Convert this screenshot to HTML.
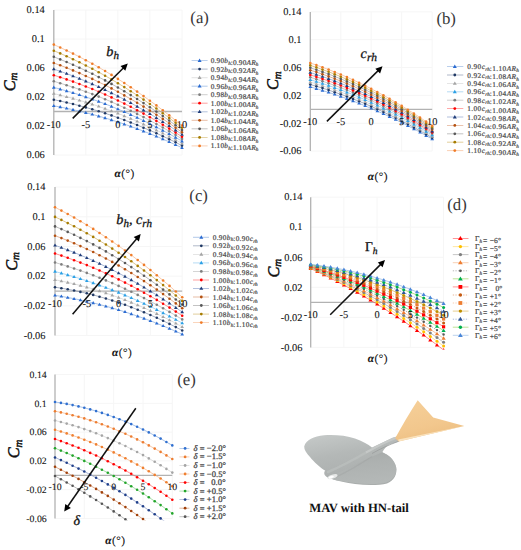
<!DOCTYPE html><html><head><meta charset="utf-8"><style>html,body{margin:0;padding:0;background:#fff;width:521px;height:550px;overflow:hidden}svg{display:block;text-rendering:geometricPrecision}.t{font-family:"Liberation Serif",serif;fill:#111}.s{font-family:"Liberation Sans",sans-serif;fill:#222}</style></head><body>
<svg width="521" height="550" viewBox="0 0 521 550">
<defs>
<clipPath id="clipa"><rect x="49.8" y="10" width="136.2" height="147"/></clipPath>
<clipPath id="clipb"><rect x="306.3" y="11.9" width="129.9" height="141.2"/></clipPath>
<clipPath id="clipc"><rect x="51" y="187.1" width="135.2" height="150.5"/></clipPath>
<clipPath id="clipd"><rect x="306.7" y="197.2" width="140.9" height="152.2"/></clipPath>
<clipPath id="clipe"><rect x="51" y="374.6" width="125.3" height="145.9"/></clipPath>
</defs>
<path d="M53.8 10H182M53.8 39H182M53.8 68H182M53.8 97H182M53.8 126H182M53.8 155H182M85.8 10V155M117.9 10V155M149.9 10V155M182 10V155" stroke="#f6f6f6" stroke-width="1" fill="none"/>
<path d="M53.8 10V155" stroke="#b2b2b2" stroke-width="1.3" fill="none"/>
<path d="M53.8 111.5H182" stroke="#b2b2b2" stroke-width="1.3" fill="none"/>
<g clip-path="url(#clipa)">
<path d="M53.8 105.8L60.2 107L66.6 108.3L73 109.7L79.4 111.1L85.8 112.7L92.3 114.4L98.7 116.1L105.1 118L111.5 119.9L117.9 122L124.3 124.1L130.7 126.4L137.1 128.7L143.5 131.2L149.9 133.7L156.4 136.3L162.8 139.1L169.2 141.9L175.6 144.8L182 147.8" stroke="#7fa6dc" stroke-width="0.85" fill="none" opacity="0.8"/>
<path d="M53.8 103.9L55.6 107L51.9 107Z" fill="#2a6bd2"/>
<path d="M60.2 105.1L62.1 108.2L58.4 108.2Z" fill="#2a6bd2"/>
<path d="M66.6 106.4L68.5 109.5L64.8 109.5Z" fill="#2a6bd2"/>
<path d="M73 107.8L74.9 110.9L71.2 110.9Z" fill="#2a6bd2"/>
<path d="M79.4 109.3L81.3 112.4L77.6 112.4Z" fill="#2a6bd2"/>
<path d="M85.8 110.8L87.7 113.9L84 113.9Z" fill="#2a6bd2"/>
<path d="M92.3 112.5L94.1 115.6L90.4 115.6Z" fill="#2a6bd2"/>
<path d="M98.7 114.3L100.5 117.4L96.8 117.4Z" fill="#2a6bd2"/>
<path d="M105.1 116.1L106.9 119.2L103.2 119.2Z" fill="#2a6bd2"/>
<path d="M111.5 118.1L113.3 121.2L109.6 121.2Z" fill="#2a6bd2"/>
<path d="M117.9 120.1L119.7 123.2L116 123.2Z" fill="#2a6bd2"/>
<path d="M124.3 122.3L126.2 125.4L122.5 125.4Z" fill="#2a6bd2"/>
<path d="M130.7 124.5L132.6 127.6L128.9 127.6Z" fill="#2a6bd2"/>
<path d="M137.1 126.9L139 130L135.3 130Z" fill="#2a6bd2"/>
<path d="M143.5 129.3L145.4 132.4L141.7 132.4Z" fill="#2a6bd2"/>
<path d="M149.9 131.8L151.8 134.9L148.1 134.9Z" fill="#2a6bd2"/>
<path d="M156.4 134.5L158.2 137.6L154.5 137.6Z" fill="#2a6bd2"/>
<path d="M162.8 137.2L164.6 140.3L160.9 140.3Z" fill="#2a6bd2"/>
<path d="M169.2 140L171 143.1L167.3 143.1Z" fill="#2a6bd2"/>
<path d="M175.6 142.9L177.4 146L173.7 146Z" fill="#2a6bd2"/>
<path d="M182 145.9L183.8 149L180.2 149Z" fill="#2a6bd2"/>
<path d="M53.8 99.7L60.2 101L66.6 102.5L73 104L79.4 105.7L85.8 107.4L92.3 109.3L98.7 111.2L105.1 113.3L111.5 115.4L117.9 117.7L124.3 120L130.7 122.5L137.1 125L143.5 127.7L149.9 130.4L156.4 133.2L162.8 136.2L169.2 139.2L175.6 142.3L182 145.6" stroke="#7c8aa5" stroke-width="0.85" fill="none" opacity="0.8"/>
<circle cx="53.8" cy="99.7" r="1.3" fill="#1f3864"/>
<circle cx="60.2" cy="101" r="1.3" fill="#1f3864"/>
<circle cx="66.6" cy="102.5" r="1.3" fill="#1f3864"/>
<circle cx="73" cy="104" r="1.3" fill="#1f3864"/>
<circle cx="79.4" cy="105.7" r="1.3" fill="#1f3864"/>
<circle cx="85.8" cy="107.4" r="1.3" fill="#1f3864"/>
<circle cx="92.3" cy="109.3" r="1.3" fill="#1f3864"/>
<circle cx="98.7" cy="111.2" r="1.3" fill="#1f3864"/>
<circle cx="105.1" cy="113.3" r="1.3" fill="#1f3864"/>
<circle cx="111.5" cy="115.4" r="1.3" fill="#1f3864"/>
<circle cx="117.9" cy="117.7" r="1.3" fill="#1f3864"/>
<circle cx="124.3" cy="120" r="1.3" fill="#1f3864"/>
<circle cx="130.7" cy="122.5" r="1.3" fill="#1f3864"/>
<circle cx="137.1" cy="125" r="1.3" fill="#1f3864"/>
<circle cx="143.5" cy="127.7" r="1.3" fill="#1f3864"/>
<circle cx="149.9" cy="130.4" r="1.3" fill="#1f3864"/>
<circle cx="156.4" cy="133.2" r="1.3" fill="#1f3864"/>
<circle cx="162.8" cy="136.2" r="1.3" fill="#1f3864"/>
<circle cx="169.2" cy="139.2" r="1.3" fill="#1f3864"/>
<circle cx="175.6" cy="142.3" r="1.3" fill="#1f3864"/>
<circle cx="182" cy="145.6" r="1.3" fill="#1f3864"/>
<path d="M53.8 93.6L60.2 95.1L66.6 96.7L73 98.4L79.4 100.3L85.8 102.2L92.3 104.2L98.7 106.4L105.1 108.6L111.5 110.9L117.9 113.4L124.3 115.9L130.7 118.6L137.1 121.3L143.5 124.2L149.9 127.1L156.4 130.1L162.8 133.3L169.2 136.6L175.6 139.9L182 143.4" stroke="#cfcfcf" stroke-width="0.85" fill="none" opacity="0.8"/>
<path d="M53.8 91.7L55.6 94.8L51.9 94.8Z" fill="#a5a5a5"/>
<path d="M60.2 93.2L62.1 96.3L58.4 96.3Z" fill="#a5a5a5"/>
<path d="M66.6 94.9L68.5 98L64.8 98Z" fill="#a5a5a5"/>
<path d="M73 96.6L74.9 99.7L71.2 99.7Z" fill="#a5a5a5"/>
<path d="M79.4 98.4L81.3 101.5L77.6 101.5Z" fill="#a5a5a5"/>
<path d="M85.8 100.3L87.7 103.4L84 103.4Z" fill="#a5a5a5"/>
<path d="M92.3 102.4L94.1 105.5L90.4 105.5Z" fill="#a5a5a5"/>
<path d="M98.7 104.5L100.5 107.6L96.8 107.6Z" fill="#a5a5a5"/>
<path d="M105.1 106.7L106.9 109.8L103.2 109.8Z" fill="#a5a5a5"/>
<path d="M111.5 109.1L113.3 112.2L109.6 112.2Z" fill="#a5a5a5"/>
<path d="M117.9 111.5L119.7 114.6L116 114.6Z" fill="#a5a5a5"/>
<path d="M124.3 114.1L126.2 117.2L122.5 117.2Z" fill="#a5a5a5"/>
<path d="M130.7 116.7L132.6 119.8L128.9 119.8Z" fill="#a5a5a5"/>
<path d="M137.1 119.4L139 122.5L135.3 122.5Z" fill="#a5a5a5"/>
<path d="M143.5 122.3L145.4 125.4L141.7 125.4Z" fill="#a5a5a5"/>
<path d="M149.9 125.2L151.8 128.3L148.1 128.3Z" fill="#a5a5a5"/>
<path d="M156.4 128.3L158.2 131.4L154.5 131.4Z" fill="#a5a5a5"/>
<path d="M162.8 131.4L164.6 134.5L160.9 134.5Z" fill="#a5a5a5"/>
<path d="M169.2 134.7L171 137.8L167.3 137.8Z" fill="#a5a5a5"/>
<path d="M175.6 138L177.4 141.1L173.7 141.1Z" fill="#a5a5a5"/>
<path d="M182 141.5L183.8 144.6L180.2 144.6Z" fill="#a5a5a5"/>
<path d="M53.8 87.4L60.2 89.1L66.6 90.9L73 92.8L79.4 94.8L85.8 97L92.3 99.2L98.7 101.5L105.1 103.9L111.5 106.4L117.9 109.1L124.3 111.8L130.7 114.6L137.1 117.6L143.5 120.6L149.9 123.8L156.4 127.1L162.8 130.4L169.2 133.9L175.6 137.5L182 141.1" stroke="#7fa6dc" stroke-width="0.85" fill="none" opacity="0.8"/>
<path d="M53.8 85.6L55.6 88.7L51.9 88.7Z" fill="#2a6bd2"/>
<path d="M60.2 87.3L62.1 90.4L58.4 90.4Z" fill="#2a6bd2"/>
<path d="M66.6 89.1L68.5 92.2L64.8 92.2Z" fill="#2a6bd2"/>
<path d="M73 91L74.9 94.1L71.2 94.1Z" fill="#2a6bd2"/>
<path d="M79.4 93L81.3 96.1L77.6 96.1Z" fill="#2a6bd2"/>
<path d="M85.8 95.1L87.7 98.2L84 98.2Z" fill="#2a6bd2"/>
<path d="M92.3 97.3L94.1 100.4L90.4 100.4Z" fill="#2a6bd2"/>
<path d="M98.7 99.6L100.5 102.7L96.8 102.7Z" fill="#2a6bd2"/>
<path d="M105.1 102L106.9 105.1L103.2 105.1Z" fill="#2a6bd2"/>
<path d="M111.5 104.6L113.3 107.7L109.6 107.7Z" fill="#2a6bd2"/>
<path d="M117.9 107.2L119.7 110.3L116 110.3Z" fill="#2a6bd2"/>
<path d="M124.3 109.9L126.2 113L122.5 113Z" fill="#2a6bd2"/>
<path d="M130.7 112.8L132.6 115.9L128.9 115.9Z" fill="#2a6bd2"/>
<path d="M137.1 115.7L139 118.8L135.3 118.8Z" fill="#2a6bd2"/>
<path d="M143.5 118.8L145.4 121.9L141.7 121.9Z" fill="#2a6bd2"/>
<path d="M149.9 121.9L151.8 125L148.1 125Z" fill="#2a6bd2"/>
<path d="M156.4 125.2L158.2 128.3L154.5 128.3Z" fill="#2a6bd2"/>
<path d="M162.8 128.6L164.6 131.7L160.9 131.7Z" fill="#2a6bd2"/>
<path d="M169.2 132L171 135.1L167.3 135.1Z" fill="#2a6bd2"/>
<path d="M175.6 135.6L177.4 138.7L173.7 138.7Z" fill="#2a6bd2"/>
<path d="M182 139.3L183.8 142.4L180.2 142.4Z" fill="#2a6bd2"/>
<path d="M53.8 81.3L60.2 83.2L66.6 85.2L73 87.2L79.4 89.4L85.8 91.7L92.3 94.1L98.7 96.6L105.1 99.2L111.5 101.9L117.9 104.8L124.3 107.7L130.7 110.7L137.1 113.9L143.5 117.1L149.9 120.5L156.4 124L162.8 127.5L169.2 131.2L175.6 135L182 138.9" stroke="#b0b0b0" stroke-width="0.85" fill="none" opacity="0.8"/>
<circle cx="53.8" cy="81.3" r="1.3" fill="#7f7f7f"/>
<circle cx="60.2" cy="83.2" r="1.3" fill="#7f7f7f"/>
<circle cx="66.6" cy="85.2" r="1.3" fill="#7f7f7f"/>
<circle cx="73" cy="87.2" r="1.3" fill="#7f7f7f"/>
<circle cx="79.4" cy="89.4" r="1.3" fill="#7f7f7f"/>
<circle cx="85.8" cy="91.7" r="1.3" fill="#7f7f7f"/>
<circle cx="92.3" cy="94.1" r="1.3" fill="#7f7f7f"/>
<circle cx="98.7" cy="96.6" r="1.3" fill="#7f7f7f"/>
<circle cx="105.1" cy="99.2" r="1.3" fill="#7f7f7f"/>
<circle cx="111.5" cy="101.9" r="1.3" fill="#7f7f7f"/>
<circle cx="117.9" cy="104.8" r="1.3" fill="#7f7f7f"/>
<circle cx="124.3" cy="107.7" r="1.3" fill="#7f7f7f"/>
<circle cx="130.7" cy="110.7" r="1.3" fill="#7f7f7f"/>
<circle cx="137.1" cy="113.9" r="1.3" fill="#7f7f7f"/>
<circle cx="143.5" cy="117.1" r="1.3" fill="#7f7f7f"/>
<circle cx="149.9" cy="120.5" r="1.3" fill="#7f7f7f"/>
<circle cx="156.4" cy="124" r="1.3" fill="#7f7f7f"/>
<circle cx="162.8" cy="127.5" r="1.3" fill="#7f7f7f"/>
<circle cx="169.2" cy="131.2" r="1.3" fill="#7f7f7f"/>
<circle cx="175.6" cy="135" r="1.3" fill="#7f7f7f"/>
<circle cx="182" cy="138.9" r="1.3" fill="#7f7f7f"/>
<path d="M53.8 75.2L60.2 77.2L66.6 79.4L73 81.6L79.4 84L85.8 86.5L92.3 89L98.7 91.7L105.1 94.5L111.5 97.4L117.9 100.5L124.3 103.6L130.7 106.8L137.1 110.2L143.5 113.6L149.9 117.2L156.4 120.9L162.8 124.7L169.2 128.6L175.6 132.6L182 136.7" stroke="#ff6060" stroke-width="0.85" fill="none" opacity="0.8"/>
<circle cx="53.8" cy="75.2" r="1.3" fill="#ff0000"/>
<circle cx="60.2" cy="77.2" r="1.3" fill="#ff0000"/>
<circle cx="66.6" cy="79.4" r="1.3" fill="#ff0000"/>
<circle cx="73" cy="81.6" r="1.3" fill="#ff0000"/>
<circle cx="79.4" cy="84" r="1.3" fill="#ff0000"/>
<circle cx="85.8" cy="86.5" r="1.3" fill="#ff0000"/>
<circle cx="92.3" cy="89" r="1.3" fill="#ff0000"/>
<circle cx="98.7" cy="91.7" r="1.3" fill="#ff0000"/>
<circle cx="105.1" cy="94.5" r="1.3" fill="#ff0000"/>
<circle cx="111.5" cy="97.4" r="1.3" fill="#ff0000"/>
<circle cx="117.9" cy="100.5" r="1.3" fill="#ff0000"/>
<circle cx="124.3" cy="103.6" r="1.3" fill="#ff0000"/>
<circle cx="130.7" cy="106.8" r="1.3" fill="#ff0000"/>
<circle cx="137.1" cy="110.2" r="1.3" fill="#ff0000"/>
<circle cx="143.5" cy="113.6" r="1.3" fill="#ff0000"/>
<circle cx="149.9" cy="117.2" r="1.3" fill="#ff0000"/>
<circle cx="156.4" cy="120.9" r="1.3" fill="#ff0000"/>
<circle cx="162.8" cy="124.7" r="1.3" fill="#ff0000"/>
<circle cx="169.2" cy="128.6" r="1.3" fill="#ff0000"/>
<circle cx="175.6" cy="132.6" r="1.3" fill="#ff0000"/>
<circle cx="182" cy="136.7" r="1.3" fill="#ff0000"/>
<path d="M53.8 69.1L60.2 71.3L66.6 73.6L73 76L79.4 78.6L85.8 81.2L92.3 84L98.7 86.8L105.1 89.8L111.5 92.9L117.9 96.1L124.3 99.5L130.7 102.9L137.1 106.5L143.5 110.1L149.9 113.9L156.4 117.8L162.8 121.8L169.2 125.9L175.6 130.1L182 134.5" stroke="#8098c8" stroke-width="0.85" fill="none" opacity="0.8"/>
<path d="M53.8 67.2L55.6 70.3L51.9 70.3Z" fill="#203d7a"/>
<path d="M60.2 69.4L62.1 72.5L58.4 72.5Z" fill="#203d7a"/>
<path d="M66.6 71.7L68.5 74.8L64.8 74.8Z" fill="#203d7a"/>
<path d="M73 74.2L74.9 77.3L71.2 77.3Z" fill="#203d7a"/>
<path d="M79.4 76.7L81.3 79.8L77.6 79.8Z" fill="#203d7a"/>
<path d="M85.8 79.3L87.7 82.4L84 82.4Z" fill="#203d7a"/>
<path d="M92.3 82.1L94.1 85.2L90.4 85.2Z" fill="#203d7a"/>
<path d="M98.7 85L100.5 88.1L96.8 88.1Z" fill="#203d7a"/>
<path d="M105.1 88L106.9 91.1L103.2 91.1Z" fill="#203d7a"/>
<path d="M111.5 91.1L113.3 94.2L109.6 94.2Z" fill="#203d7a"/>
<path d="M117.9 94.3L119.7 97.4L116 97.4Z" fill="#203d7a"/>
<path d="M124.3 97.6L126.2 100.7L122.5 100.7Z" fill="#203d7a"/>
<path d="M130.7 101L132.6 104.1L128.9 104.1Z" fill="#203d7a"/>
<path d="M137.1 104.6L139 107.7L135.3 107.7Z" fill="#203d7a"/>
<path d="M143.5 108.3L145.4 111.4L141.7 111.4Z" fill="#203d7a"/>
<path d="M149.9 112L151.8 115.1L148.1 115.1Z" fill="#203d7a"/>
<path d="M156.4 115.9L158.2 119L154.5 119Z" fill="#203d7a"/>
<path d="M162.8 119.9L164.6 123L160.9 123Z" fill="#203d7a"/>
<path d="M169.2 124L171 127.1L167.3 127.1Z" fill="#203d7a"/>
<path d="M175.6 128.3L177.4 131.4L173.7 131.4Z" fill="#203d7a"/>
<path d="M182 132.6L183.8 135.7L180.2 135.7Z" fill="#203d7a"/>
<path d="M53.8 63L60.2 65.3L66.6 67.8L73 70.4L79.4 73.1L85.8 76L92.3 78.9L98.7 82L105.1 85.1L111.5 88.4L117.9 91.8L124.3 95.4L130.7 99L137.1 102.7L143.5 106.6L149.9 110.6L156.4 114.7L162.8 118.9L169.2 123.2L175.6 127.7L182 132.3" stroke="#d9926a" stroke-width="0.85" fill="none" opacity="0.8"/>
<circle cx="53.8" cy="63" r="1.3" fill="#b4500f"/>
<circle cx="60.2" cy="65.3" r="1.3" fill="#b4500f"/>
<circle cx="66.6" cy="67.8" r="1.3" fill="#b4500f"/>
<circle cx="73" cy="70.4" r="1.3" fill="#b4500f"/>
<circle cx="79.4" cy="73.1" r="1.3" fill="#b4500f"/>
<circle cx="85.8" cy="76" r="1.3" fill="#b4500f"/>
<circle cx="92.3" cy="78.9" r="1.3" fill="#b4500f"/>
<circle cx="98.7" cy="82" r="1.3" fill="#b4500f"/>
<circle cx="105.1" cy="85.1" r="1.3" fill="#b4500f"/>
<circle cx="111.5" cy="88.4" r="1.3" fill="#b4500f"/>
<circle cx="117.9" cy="91.8" r="1.3" fill="#b4500f"/>
<circle cx="124.3" cy="95.4" r="1.3" fill="#b4500f"/>
<circle cx="130.7" cy="99" r="1.3" fill="#b4500f"/>
<circle cx="137.1" cy="102.7" r="1.3" fill="#b4500f"/>
<circle cx="143.5" cy="106.6" r="1.3" fill="#b4500f"/>
<circle cx="149.9" cy="110.6" r="1.3" fill="#b4500f"/>
<circle cx="156.4" cy="114.7" r="1.3" fill="#b4500f"/>
<circle cx="162.8" cy="118.9" r="1.3" fill="#b4500f"/>
<circle cx="169.2" cy="123.2" r="1.3" fill="#b4500f"/>
<circle cx="175.6" cy="127.7" r="1.3" fill="#b4500f"/>
<circle cx="182" cy="132.3" r="1.3" fill="#b4500f"/>
<path d="M53.8 56.8L60.2 59.4L66.6 62L73 64.8L79.4 67.7L85.8 70.7L92.3 73.8L98.7 77.1L105.1 80.4L111.5 83.9L117.9 87.5L124.3 91.2L130.7 95.1L137.1 99L143.5 103.1L149.9 107.3L156.4 111.6L162.8 116L169.2 120.6L175.6 125.3L182 130" stroke="#9a9a9a" stroke-width="0.85" fill="none" opacity="0.8"/>
<circle cx="53.8" cy="56.8" r="1.3" fill="#595959"/>
<circle cx="60.2" cy="59.4" r="1.3" fill="#595959"/>
<circle cx="66.6" cy="62" r="1.3" fill="#595959"/>
<circle cx="73" cy="64.8" r="1.3" fill="#595959"/>
<circle cx="79.4" cy="67.7" r="1.3" fill="#595959"/>
<circle cx="85.8" cy="70.7" r="1.3" fill="#595959"/>
<circle cx="92.3" cy="73.8" r="1.3" fill="#595959"/>
<circle cx="98.7" cy="77.1" r="1.3" fill="#595959"/>
<circle cx="105.1" cy="80.4" r="1.3" fill="#595959"/>
<circle cx="111.5" cy="83.9" r="1.3" fill="#595959"/>
<circle cx="117.9" cy="87.5" r="1.3" fill="#595959"/>
<circle cx="124.3" cy="91.2" r="1.3" fill="#595959"/>
<circle cx="130.7" cy="95.1" r="1.3" fill="#595959"/>
<circle cx="137.1" cy="99" r="1.3" fill="#595959"/>
<circle cx="143.5" cy="103.1" r="1.3" fill="#595959"/>
<circle cx="149.9" cy="107.3" r="1.3" fill="#595959"/>
<circle cx="156.4" cy="111.6" r="1.3" fill="#595959"/>
<circle cx="162.8" cy="116" r="1.3" fill="#595959"/>
<circle cx="169.2" cy="120.6" r="1.3" fill="#595959"/>
<circle cx="175.6" cy="125.3" r="1.3" fill="#595959"/>
<circle cx="182" cy="130" r="1.3" fill="#595959"/>
<path d="M53.8 50.7L60.2 53.4L66.6 56.2L73 59.2L79.4 62.3L85.8 65.5L92.3 68.8L98.7 72.2L105.1 75.7L111.5 79.4L117.9 83.2L124.3 87.1L130.7 91.2L137.1 95.3L143.5 99.6L149.9 104L156.4 108.5L162.8 113.2L169.2 117.9L175.6 122.8L182 127.8" stroke="#cfae5a" stroke-width="0.85" fill="none" opacity="0.8"/>
<circle cx="53.8" cy="50.7" r="1.3" fill="#a67c00"/>
<circle cx="60.2" cy="53.4" r="1.3" fill="#a67c00"/>
<circle cx="66.6" cy="56.2" r="1.3" fill="#a67c00"/>
<circle cx="73" cy="59.2" r="1.3" fill="#a67c00"/>
<circle cx="79.4" cy="62.3" r="1.3" fill="#a67c00"/>
<circle cx="85.8" cy="65.5" r="1.3" fill="#a67c00"/>
<circle cx="92.3" cy="68.8" r="1.3" fill="#a67c00"/>
<circle cx="98.7" cy="72.2" r="1.3" fill="#a67c00"/>
<circle cx="105.1" cy="75.7" r="1.3" fill="#a67c00"/>
<circle cx="111.5" cy="79.4" r="1.3" fill="#a67c00"/>
<circle cx="117.9" cy="83.2" r="1.3" fill="#a67c00"/>
<circle cx="124.3" cy="87.1" r="1.3" fill="#a67c00"/>
<circle cx="130.7" cy="91.2" r="1.3" fill="#a67c00"/>
<circle cx="137.1" cy="95.3" r="1.3" fill="#a67c00"/>
<circle cx="143.5" cy="99.6" r="1.3" fill="#a67c00"/>
<circle cx="149.9" cy="104" r="1.3" fill="#a67c00"/>
<circle cx="156.4" cy="108.5" r="1.3" fill="#a67c00"/>
<circle cx="162.8" cy="113.2" r="1.3" fill="#a67c00"/>
<circle cx="169.2" cy="117.9" r="1.3" fill="#a67c00"/>
<circle cx="175.6" cy="122.8" r="1.3" fill="#a67c00"/>
<circle cx="182" cy="127.8" r="1.3" fill="#a67c00"/>
<path d="M53.8 44.6L60.2 47.5L66.6 50.5L73 53.6L79.4 56.8L85.8 60.2L92.3 63.7L98.7 67.3L105.1 71L111.5 74.9L117.9 78.9L124.3 83L130.7 87.2L137.1 91.6L143.5 96.1L149.9 100.7L156.4 105.4L162.8 110.3L169.2 115.3L175.6 120.4L182 125.6" stroke="#f6b183" stroke-width="0.85" fill="none" opacity="0.8"/>
<circle cx="53.8" cy="44.6" r="1.3" fill="#f07c28"/>
<circle cx="60.2" cy="47.5" r="1.3" fill="#f07c28"/>
<circle cx="66.6" cy="50.5" r="1.3" fill="#f07c28"/>
<circle cx="73" cy="53.6" r="1.3" fill="#f07c28"/>
<circle cx="79.4" cy="56.8" r="1.3" fill="#f07c28"/>
<circle cx="85.8" cy="60.2" r="1.3" fill="#f07c28"/>
<circle cx="92.3" cy="63.7" r="1.3" fill="#f07c28"/>
<circle cx="98.7" cy="67.3" r="1.3" fill="#f07c28"/>
<circle cx="105.1" cy="71" r="1.3" fill="#f07c28"/>
<circle cx="111.5" cy="74.9" r="1.3" fill="#f07c28"/>
<circle cx="117.9" cy="78.9" r="1.3" fill="#f07c28"/>
<circle cx="124.3" cy="83" r="1.3" fill="#f07c28"/>
<circle cx="130.7" cy="87.2" r="1.3" fill="#f07c28"/>
<circle cx="137.1" cy="91.6" r="1.3" fill="#f07c28"/>
<circle cx="143.5" cy="96.1" r="1.3" fill="#f07c28"/>
<circle cx="149.9" cy="100.7" r="1.3" fill="#f07c28"/>
<circle cx="156.4" cy="105.4" r="1.3" fill="#f07c28"/>
<circle cx="162.8" cy="110.3" r="1.3" fill="#f07c28"/>
<circle cx="169.2" cy="115.3" r="1.3" fill="#f07c28"/>
<circle cx="175.6" cy="120.4" r="1.3" fill="#f07c28"/>
<circle cx="182" cy="125.6" r="1.3" fill="#f07c28"/>
</g>
<path d="M310.3 11.9H432.2M310.3 39.7H432.2M310.3 67.6H432.2M310.3 95.4H432.2M310.3 123.3H432.2M310.3 151.1H432.2M340.8 11.9V151.1M371.2 11.9V151.1M401.7 11.9V151.1M432.2 11.9V151.1" stroke="#f6f6f6" stroke-width="1" fill="none"/>
<path d="M310.3 11.9V151.1" stroke="#b2b2b2" stroke-width="1.3" fill="none"/>
<path d="M310.3 109.3H432.2" stroke="#b2b2b2" stroke-width="1.3" fill="none"/>
<g clip-path="url(#clipb)">
<path d="M310.3 86.9L316.4 88.6L322.5 90.5L328.6 92.4L334.7 94.4L340.8 96.5L346.9 98.7L353 101L359.1 103.4L365.2 105.8L371.2 108.4L377.3 111.1L383.4 113.8L389.5 116.6L395.6 119.6L401.7 122.6L407.8 125.7L413.9 128.9L420 132.2L426.1 135.6L432.2 139.1" stroke="#7fa6dc" stroke-width="0.85" fill="none" opacity="0.8"/>
<path d="M310.3 85L312.2 88.1L308.4 88.1Z" fill="#2a6bd2"/>
<path d="M316.4 86.8L318.2 89.9L314.5 89.9Z" fill="#2a6bd2"/>
<path d="M322.5 88.6L324.3 91.7L320.6 91.7Z" fill="#2a6bd2"/>
<path d="M328.6 90.5L330.4 93.6L326.7 93.6Z" fill="#2a6bd2"/>
<path d="M334.7 92.5L336.5 95.6L332.8 95.6Z" fill="#2a6bd2"/>
<path d="M340.8 94.6L342.6 97.7L338.9 97.7Z" fill="#2a6bd2"/>
<path d="M346.9 96.8L348.7 99.9L345 99.9Z" fill="#2a6bd2"/>
<path d="M353 99.1L354.8 102.2L351.1 102.2Z" fill="#2a6bd2"/>
<path d="M359.1 101.5L360.9 104.6L357.2 104.6Z" fill="#2a6bd2"/>
<path d="M365.2 104L367 107.1L363.3 107.1Z" fill="#2a6bd2"/>
<path d="M371.2 106.5L373.1 109.6L369.4 109.6Z" fill="#2a6bd2"/>
<path d="M377.3 109.2L379.2 112.3L375.5 112.3Z" fill="#2a6bd2"/>
<path d="M383.4 111.9L385.3 115L381.6 115Z" fill="#2a6bd2"/>
<path d="M389.5 114.8L391.4 117.9L387.7 117.9Z" fill="#2a6bd2"/>
<path d="M395.6 117.7L397.5 120.8L393.8 120.8Z" fill="#2a6bd2"/>
<path d="M401.7 120.7L403.6 123.8L399.9 123.8Z" fill="#2a6bd2"/>
<path d="M407.8 123.9L409.7 127L406 127Z" fill="#2a6bd2"/>
<path d="M413.9 127.1L415.8 130.2L412.1 130.2Z" fill="#2a6bd2"/>
<path d="M420 130.4L421.9 133.5L418.2 133.5Z" fill="#2a6bd2"/>
<path d="M426.1 133.8L428 136.9L424.3 136.9Z" fill="#2a6bd2"/>
<path d="M432.2 137.2L434.1 140.3L430.3 140.3Z" fill="#2a6bd2"/>
<path d="M310.3 84.5L316.4 86.3L322.5 88.1L328.6 90.1L334.7 92.2L340.8 94.3L346.9 96.5L353 98.9L359.1 101.3L365.2 103.8L371.2 106.4L377.3 109.1L383.4 112L389.5 114.9L395.6 117.8L401.7 120.9L407.8 124.1L413.9 127.4L420 130.8L426.1 134.2L432.2 137.8" stroke="#7c8aa5" stroke-width="0.85" fill="none" opacity="0.8"/>
<circle cx="310.3" cy="84.5" r="1.3" fill="#1f3864"/>
<circle cx="316.4" cy="86.3" r="1.3" fill="#1f3864"/>
<circle cx="322.5" cy="88.1" r="1.3" fill="#1f3864"/>
<circle cx="328.6" cy="90.1" r="1.3" fill="#1f3864"/>
<circle cx="334.7" cy="92.2" r="1.3" fill="#1f3864"/>
<circle cx="340.8" cy="94.3" r="1.3" fill="#1f3864"/>
<circle cx="346.9" cy="96.5" r="1.3" fill="#1f3864"/>
<circle cx="353" cy="98.9" r="1.3" fill="#1f3864"/>
<circle cx="359.1" cy="101.3" r="1.3" fill="#1f3864"/>
<circle cx="365.2" cy="103.8" r="1.3" fill="#1f3864"/>
<circle cx="371.2" cy="106.4" r="1.3" fill="#1f3864"/>
<circle cx="377.3" cy="109.1" r="1.3" fill="#1f3864"/>
<circle cx="383.4" cy="112" r="1.3" fill="#1f3864"/>
<circle cx="389.5" cy="114.9" r="1.3" fill="#1f3864"/>
<circle cx="395.6" cy="117.8" r="1.3" fill="#1f3864"/>
<circle cx="401.7" cy="120.9" r="1.3" fill="#1f3864"/>
<circle cx="407.8" cy="124.1" r="1.3" fill="#1f3864"/>
<circle cx="413.9" cy="127.4" r="1.3" fill="#1f3864"/>
<circle cx="420" cy="130.8" r="1.3" fill="#1f3864"/>
<circle cx="426.1" cy="134.2" r="1.3" fill="#1f3864"/>
<circle cx="432.2" cy="137.8" r="1.3" fill="#1f3864"/>
<path d="M310.3 82.1L316.4 83.9L322.5 85.8L328.6 87.8L334.7 89.9L340.8 92.1L346.9 94.4L353 96.8L359.1 99.2L365.2 101.8L371.2 104.5L377.3 107.2L383.4 110.1L389.5 113.1L395.6 116.1L401.7 119.3L407.8 122.5L413.9 125.8L420 129.3L426.1 132.8L432.2 136.4" stroke="#cfcfcf" stroke-width="0.85" fill="none" opacity="0.8"/>
<path d="M310.3 80.3L312.2 83.4L308.4 83.4Z" fill="#a5a5a5"/>
<path d="M316.4 82.1L318.2 85.2L314.5 85.2Z" fill="#a5a5a5"/>
<path d="M322.5 84L324.3 87.1L320.6 87.1Z" fill="#a5a5a5"/>
<path d="M328.6 86L330.4 89.1L326.7 89.1Z" fill="#a5a5a5"/>
<path d="M334.7 88.1L336.5 91.2L332.8 91.2Z" fill="#a5a5a5"/>
<path d="M340.8 90.2L342.6 93.3L338.9 93.3Z" fill="#a5a5a5"/>
<path d="M346.9 92.5L348.7 95.6L345 95.6Z" fill="#a5a5a5"/>
<path d="M353 94.9L354.8 98L351.1 98Z" fill="#a5a5a5"/>
<path d="M359.1 97.4L360.9 100.5L357.2 100.5Z" fill="#a5a5a5"/>
<path d="M365.2 100L367 103.1L363.3 103.1Z" fill="#a5a5a5"/>
<path d="M371.2 102.6L373.1 105.7L369.4 105.7Z" fill="#a5a5a5"/>
<path d="M377.3 105.4L379.2 108.5L375.5 108.5Z" fill="#a5a5a5"/>
<path d="M383.4 108.2L385.3 111.3L381.6 111.3Z" fill="#a5a5a5"/>
<path d="M389.5 111.2L391.4 114.3L387.7 114.3Z" fill="#a5a5a5"/>
<path d="M395.6 114.3L397.5 117.4L393.8 117.4Z" fill="#a5a5a5"/>
<path d="M401.7 117.4L403.6 120.5L399.9 120.5Z" fill="#a5a5a5"/>
<path d="M407.8 120.6L409.7 123.7L406 123.7Z" fill="#a5a5a5"/>
<path d="M413.9 124L415.8 127.1L412.1 127.1Z" fill="#a5a5a5"/>
<path d="M420 127.4L421.9 130.5L418.2 130.5Z" fill="#a5a5a5"/>
<path d="M426.1 131L428 134.1L424.3 134.1Z" fill="#a5a5a5"/>
<path d="M432.2 134.6L434.1 137.7L430.3 137.7Z" fill="#a5a5a5"/>
<path d="M310.3 79.7L316.4 81.6L322.5 83.5L328.6 85.5L334.7 87.7L340.8 89.9L346.9 92.2L353 94.7L359.1 97.2L365.2 99.8L371.2 102.5L377.3 105.3L383.4 108.3L389.5 111.3L395.6 114.4L401.7 117.6L407.8 120.9L413.9 124.3L420 127.8L426.1 131.4L432.2 135.1" stroke="#86c4ee" stroke-width="0.85" fill="none" opacity="0.8"/>
<path d="M310.3 77.9L312.2 81L308.4 81Z" fill="#2aa0e6"/>
<path d="M316.4 79.7L318.2 82.8L314.5 82.8Z" fill="#2aa0e6"/>
<path d="M322.5 81.6L324.3 84.7L320.6 84.7Z" fill="#2aa0e6"/>
<path d="M328.6 83.7L330.4 86.8L326.7 86.8Z" fill="#2aa0e6"/>
<path d="M334.7 85.8L336.5 88.9L332.8 88.9Z" fill="#2aa0e6"/>
<path d="M340.8 88L342.6 91.1L338.9 91.1Z" fill="#2aa0e6"/>
<path d="M346.9 90.4L348.7 93.5L345 93.5Z" fill="#2aa0e6"/>
<path d="M353 92.8L354.8 95.9L351.1 95.9Z" fill="#2aa0e6"/>
<path d="M359.1 95.3L360.9 98.4L357.2 98.4Z" fill="#2aa0e6"/>
<path d="M365.2 97.9L367 101L363.3 101Z" fill="#2aa0e6"/>
<path d="M371.2 100.7L373.1 103.8L369.4 103.8Z" fill="#2aa0e6"/>
<path d="M377.3 103.5L379.2 106.6L375.5 106.6Z" fill="#2aa0e6"/>
<path d="M383.4 106.4L385.3 109.5L381.6 109.5Z" fill="#2aa0e6"/>
<path d="M389.5 109.4L391.4 112.5L387.7 112.5Z" fill="#2aa0e6"/>
<path d="M395.6 112.5L397.5 115.6L393.8 115.6Z" fill="#2aa0e6"/>
<path d="M401.7 115.7L403.6 118.8L399.9 118.8Z" fill="#2aa0e6"/>
<path d="M407.8 119L409.7 122.1L406 122.1Z" fill="#2aa0e6"/>
<path d="M413.9 122.4L415.8 125.5L412.1 125.5Z" fill="#2aa0e6"/>
<path d="M420 125.9L421.9 129L418.2 129Z" fill="#2aa0e6"/>
<path d="M426.1 129.5L428 132.7L424.3 132.7Z" fill="#2aa0e6"/>
<path d="M432.2 133.2L434.1 136.3L430.3 136.3Z" fill="#2aa0e6"/>
<path d="M310.3 77.3L316.4 79.2L322.5 81.2L328.6 83.3L334.7 85.4L340.8 87.7L346.9 90.1L353 92.5L359.1 95.1L365.2 97.8L371.2 100.6L377.3 103.4L383.4 106.4L389.5 109.5L395.6 112.6L401.7 115.9L407.8 119.3L413.9 122.8L420 126.3L426.1 130L432.2 133.8" stroke="#b0b0b0" stroke-width="0.85" fill="none" opacity="0.8"/>
<circle cx="310.3" cy="77.3" r="1.3" fill="#7f7f7f"/>
<circle cx="316.4" cy="79.2" r="1.3" fill="#7f7f7f"/>
<circle cx="322.5" cy="81.2" r="1.3" fill="#7f7f7f"/>
<circle cx="328.6" cy="83.3" r="1.3" fill="#7f7f7f"/>
<circle cx="334.7" cy="85.4" r="1.3" fill="#7f7f7f"/>
<circle cx="340.8" cy="87.7" r="1.3" fill="#7f7f7f"/>
<circle cx="346.9" cy="90.1" r="1.3" fill="#7f7f7f"/>
<circle cx="353" cy="92.5" r="1.3" fill="#7f7f7f"/>
<circle cx="359.1" cy="95.1" r="1.3" fill="#7f7f7f"/>
<circle cx="365.2" cy="97.8" r="1.3" fill="#7f7f7f"/>
<circle cx="371.2" cy="100.6" r="1.3" fill="#7f7f7f"/>
<circle cx="377.3" cy="103.4" r="1.3" fill="#7f7f7f"/>
<circle cx="383.4" cy="106.4" r="1.3" fill="#7f7f7f"/>
<circle cx="389.5" cy="109.5" r="1.3" fill="#7f7f7f"/>
<circle cx="395.6" cy="112.6" r="1.3" fill="#7f7f7f"/>
<circle cx="401.7" cy="115.9" r="1.3" fill="#7f7f7f"/>
<circle cx="407.8" cy="119.3" r="1.3" fill="#7f7f7f"/>
<circle cx="413.9" cy="122.8" r="1.3" fill="#7f7f7f"/>
<circle cx="420" cy="126.3" r="1.3" fill="#7f7f7f"/>
<circle cx="426.1" cy="130" r="1.3" fill="#7f7f7f"/>
<circle cx="432.2" cy="133.8" r="1.3" fill="#7f7f7f"/>
<path d="M310.3 74.9L316.4 76.9L322.5 78.9L328.6 81L334.7 83.2L340.8 85.5L346.9 87.9L353 90.4L359.1 93.1L365.2 95.8L371.2 98.6L377.3 101.5L383.4 104.6L389.5 107.7L395.6 110.9L401.7 114.2L407.8 117.7L413.9 121.2L420 124.9L426.1 128.6L432.2 132.4" stroke="#ff6060" stroke-width="0.85" fill="none" opacity="0.8"/>
<circle cx="310.3" cy="74.9" r="1.3" fill="#ff0000"/>
<circle cx="316.4" cy="76.9" r="1.3" fill="#ff0000"/>
<circle cx="322.5" cy="78.9" r="1.3" fill="#ff0000"/>
<circle cx="328.6" cy="81" r="1.3" fill="#ff0000"/>
<circle cx="334.7" cy="83.2" r="1.3" fill="#ff0000"/>
<circle cx="340.8" cy="85.5" r="1.3" fill="#ff0000"/>
<circle cx="346.9" cy="87.9" r="1.3" fill="#ff0000"/>
<circle cx="353" cy="90.4" r="1.3" fill="#ff0000"/>
<circle cx="359.1" cy="93.1" r="1.3" fill="#ff0000"/>
<circle cx="365.2" cy="95.8" r="1.3" fill="#ff0000"/>
<circle cx="371.2" cy="98.6" r="1.3" fill="#ff0000"/>
<circle cx="377.3" cy="101.5" r="1.3" fill="#ff0000"/>
<circle cx="383.4" cy="104.6" r="1.3" fill="#ff0000"/>
<circle cx="389.5" cy="107.7" r="1.3" fill="#ff0000"/>
<circle cx="395.6" cy="110.9" r="1.3" fill="#ff0000"/>
<circle cx="401.7" cy="114.2" r="1.3" fill="#ff0000"/>
<circle cx="407.8" cy="117.7" r="1.3" fill="#ff0000"/>
<circle cx="413.9" cy="121.2" r="1.3" fill="#ff0000"/>
<circle cx="420" cy="124.9" r="1.3" fill="#ff0000"/>
<circle cx="426.1" cy="128.6" r="1.3" fill="#ff0000"/>
<circle cx="432.2" cy="132.4" r="1.3" fill="#ff0000"/>
<path d="M310.3 72.6L316.4 74.5L322.5 76.5L328.6 78.7L334.7 80.9L340.8 83.3L346.9 85.8L353 88.3L359.1 91L365.2 93.8L371.2 96.6L377.3 99.6L383.4 102.7L389.5 105.9L395.6 109.2L401.7 112.6L407.8 116.1L413.9 119.7L420 123.4L426.1 127.2L432.2 131.1" stroke="#8098c8" stroke-width="0.85" fill="none" opacity="0.8"/>
<path d="M310.3 70.7L312.2 73.8L308.4 73.8Z" fill="#203d7a"/>
<path d="M316.4 72.6L318.2 75.7L314.5 75.7Z" fill="#203d7a"/>
<path d="M322.5 74.7L324.3 77.8L320.6 77.8Z" fill="#203d7a"/>
<path d="M328.6 76.8L330.4 79.9L326.7 79.9Z" fill="#203d7a"/>
<path d="M334.7 79.1L336.5 82.2L332.8 82.2Z" fill="#203d7a"/>
<path d="M340.8 81.4L342.6 84.5L338.9 84.5Z" fill="#203d7a"/>
<path d="M346.9 83.9L348.7 87L345 87Z" fill="#203d7a"/>
<path d="M353 86.5L354.8 89.6L351.1 89.6Z" fill="#203d7a"/>
<path d="M359.1 89.1L360.9 92.2L357.2 92.2Z" fill="#203d7a"/>
<path d="M365.2 91.9L367 95L363.3 95Z" fill="#203d7a"/>
<path d="M371.2 94.8L373.1 97.9L369.4 97.9Z" fill="#203d7a"/>
<path d="M377.3 97.8L379.2 100.9L375.5 100.9Z" fill="#203d7a"/>
<path d="M383.4 100.8L385.3 103.9L381.6 103.9Z" fill="#203d7a"/>
<path d="M389.5 104L391.4 107.1L387.7 107.1Z" fill="#203d7a"/>
<path d="M395.6 107.3L397.5 110.4L393.8 110.4Z" fill="#203d7a"/>
<path d="M401.7 110.7L403.6 113.8L399.9 113.8Z" fill="#203d7a"/>
<path d="M407.8 114.2L409.7 117.3L406 117.3Z" fill="#203d7a"/>
<path d="M413.9 117.8L415.8 120.9L412.1 120.9Z" fill="#203d7a"/>
<path d="M420 121.5L421.9 124.6L418.2 124.6Z" fill="#203d7a"/>
<path d="M426.1 125.3L428 128.4L424.3 128.4Z" fill="#203d7a"/>
<path d="M432.2 129.3L434.1 132.4L430.3 132.4Z" fill="#203d7a"/>
<path d="M310.3 70.2L316.4 72.1L322.5 74.2L328.6 76.4L334.7 78.7L340.8 81.1L346.9 83.6L353 86.2L359.1 88.9L365.2 91.8L371.2 94.7L377.3 97.7L383.4 100.9L389.5 104.1L395.6 107.5L401.7 110.9L407.8 114.5L413.9 118.1L420 121.9L426.1 125.8L432.2 129.8" stroke="#d9926a" stroke-width="0.85" fill="none" opacity="0.8"/>
<circle cx="310.3" cy="70.2" r="1.3" fill="#b4500f"/>
<circle cx="316.4" cy="72.1" r="1.3" fill="#b4500f"/>
<circle cx="322.5" cy="74.2" r="1.3" fill="#b4500f"/>
<circle cx="328.6" cy="76.4" r="1.3" fill="#b4500f"/>
<circle cx="334.7" cy="78.7" r="1.3" fill="#b4500f"/>
<circle cx="340.8" cy="81.1" r="1.3" fill="#b4500f"/>
<circle cx="346.9" cy="83.6" r="1.3" fill="#b4500f"/>
<circle cx="353" cy="86.2" r="1.3" fill="#b4500f"/>
<circle cx="359.1" cy="88.9" r="1.3" fill="#b4500f"/>
<circle cx="365.2" cy="91.8" r="1.3" fill="#b4500f"/>
<circle cx="371.2" cy="94.7" r="1.3" fill="#b4500f"/>
<circle cx="377.3" cy="97.7" r="1.3" fill="#b4500f"/>
<circle cx="383.4" cy="100.9" r="1.3" fill="#b4500f"/>
<circle cx="389.5" cy="104.1" r="1.3" fill="#b4500f"/>
<circle cx="395.6" cy="107.5" r="1.3" fill="#b4500f"/>
<circle cx="401.7" cy="110.9" r="1.3" fill="#b4500f"/>
<circle cx="407.8" cy="114.5" r="1.3" fill="#b4500f"/>
<circle cx="413.9" cy="118.1" r="1.3" fill="#b4500f"/>
<circle cx="420" cy="121.9" r="1.3" fill="#b4500f"/>
<circle cx="426.1" cy="125.8" r="1.3" fill="#b4500f"/>
<circle cx="432.2" cy="129.8" r="1.3" fill="#b4500f"/>
<path d="M310.3 67.8L316.4 69.8L322.5 71.9L328.6 74.1L334.7 76.5L340.8 78.9L346.9 81.4L353 84.1L359.1 86.9L365.2 89.7L371.2 92.7L377.3 95.8L383.4 99L389.5 102.3L395.6 105.7L401.7 109.2L407.8 112.9L413.9 116.6L420 120.4L426.1 124.4L432.2 128.5" stroke="#9a9a9a" stroke-width="0.85" fill="none" opacity="0.8"/>
<circle cx="310.3" cy="67.8" r="1.3" fill="#595959"/>
<circle cx="316.4" cy="69.8" r="1.3" fill="#595959"/>
<circle cx="322.5" cy="71.9" r="1.3" fill="#595959"/>
<circle cx="328.6" cy="74.1" r="1.3" fill="#595959"/>
<circle cx="334.7" cy="76.5" r="1.3" fill="#595959"/>
<circle cx="340.8" cy="78.9" r="1.3" fill="#595959"/>
<circle cx="346.9" cy="81.4" r="1.3" fill="#595959"/>
<circle cx="353" cy="84.1" r="1.3" fill="#595959"/>
<circle cx="359.1" cy="86.9" r="1.3" fill="#595959"/>
<circle cx="365.2" cy="89.7" r="1.3" fill="#595959"/>
<circle cx="371.2" cy="92.7" r="1.3" fill="#595959"/>
<circle cx="377.3" cy="95.8" r="1.3" fill="#595959"/>
<circle cx="383.4" cy="99" r="1.3" fill="#595959"/>
<circle cx="389.5" cy="102.3" r="1.3" fill="#595959"/>
<circle cx="395.6" cy="105.7" r="1.3" fill="#595959"/>
<circle cx="401.7" cy="109.2" r="1.3" fill="#595959"/>
<circle cx="407.8" cy="112.9" r="1.3" fill="#595959"/>
<circle cx="413.9" cy="116.6" r="1.3" fill="#595959"/>
<circle cx="420" cy="120.4" r="1.3" fill="#595959"/>
<circle cx="426.1" cy="124.4" r="1.3" fill="#595959"/>
<circle cx="432.2" cy="128.5" r="1.3" fill="#595959"/>
<path d="M310.3 65.4L316.4 67.4L322.5 69.6L328.6 71.8L334.7 74.2L340.8 76.7L346.9 79.3L353 82L359.1 84.8L365.2 87.7L371.2 90.8L377.3 93.9L383.4 97.2L389.5 100.5L395.6 104L401.7 107.6L407.8 111.3L413.9 115.1L420 119L426.1 123L432.2 127.1" stroke="#cfae5a" stroke-width="0.85" fill="none" opacity="0.8"/>
<circle cx="310.3" cy="65.4" r="1.3" fill="#a67c00"/>
<circle cx="316.4" cy="67.4" r="1.3" fill="#a67c00"/>
<circle cx="322.5" cy="69.6" r="1.3" fill="#a67c00"/>
<circle cx="328.6" cy="71.8" r="1.3" fill="#a67c00"/>
<circle cx="334.7" cy="74.2" r="1.3" fill="#a67c00"/>
<circle cx="340.8" cy="76.7" r="1.3" fill="#a67c00"/>
<circle cx="346.9" cy="79.3" r="1.3" fill="#a67c00"/>
<circle cx="353" cy="82" r="1.3" fill="#a67c00"/>
<circle cx="359.1" cy="84.8" r="1.3" fill="#a67c00"/>
<circle cx="365.2" cy="87.7" r="1.3" fill="#a67c00"/>
<circle cx="371.2" cy="90.8" r="1.3" fill="#a67c00"/>
<circle cx="377.3" cy="93.9" r="1.3" fill="#a67c00"/>
<circle cx="383.4" cy="97.2" r="1.3" fill="#a67c00"/>
<circle cx="389.5" cy="100.5" r="1.3" fill="#a67c00"/>
<circle cx="395.6" cy="104" r="1.3" fill="#a67c00"/>
<circle cx="401.7" cy="107.6" r="1.3" fill="#a67c00"/>
<circle cx="407.8" cy="111.3" r="1.3" fill="#a67c00"/>
<circle cx="413.9" cy="115.1" r="1.3" fill="#a67c00"/>
<circle cx="420" cy="119" r="1.3" fill="#a67c00"/>
<circle cx="426.1" cy="123" r="1.3" fill="#a67c00"/>
<circle cx="432.2" cy="127.1" r="1.3" fill="#a67c00"/>
<path d="M310.3 63L316.4 65.1L322.5 67.3L328.6 69.6L334.7 72L340.8 74.5L346.9 77.1L353 79.9L359.1 82.7L365.2 85.7L371.2 88.8L377.3 92L383.4 95.3L389.5 98.7L395.6 102.3L401.7 105.9L407.8 109.7L413.9 113.5L420 117.5L426.1 121.6L432.2 125.8" stroke="#f6b183" stroke-width="0.85" fill="none" opacity="0.8"/>
<circle cx="310.3" cy="63" r="1.3" fill="#f07c28"/>
<circle cx="316.4" cy="65.1" r="1.3" fill="#f07c28"/>
<circle cx="322.5" cy="67.3" r="1.3" fill="#f07c28"/>
<circle cx="328.6" cy="69.6" r="1.3" fill="#f07c28"/>
<circle cx="334.7" cy="72" r="1.3" fill="#f07c28"/>
<circle cx="340.8" cy="74.5" r="1.3" fill="#f07c28"/>
<circle cx="346.9" cy="77.1" r="1.3" fill="#f07c28"/>
<circle cx="353" cy="79.9" r="1.3" fill="#f07c28"/>
<circle cx="359.1" cy="82.7" r="1.3" fill="#f07c28"/>
<circle cx="365.2" cy="85.7" r="1.3" fill="#f07c28"/>
<circle cx="371.2" cy="88.8" r="1.3" fill="#f07c28"/>
<circle cx="377.3" cy="92" r="1.3" fill="#f07c28"/>
<circle cx="383.4" cy="95.3" r="1.3" fill="#f07c28"/>
<circle cx="389.5" cy="98.7" r="1.3" fill="#f07c28"/>
<circle cx="395.6" cy="102.3" r="1.3" fill="#f07c28"/>
<circle cx="401.7" cy="105.9" r="1.3" fill="#f07c28"/>
<circle cx="407.8" cy="109.7" r="1.3" fill="#f07c28"/>
<circle cx="413.9" cy="113.5" r="1.3" fill="#f07c28"/>
<circle cx="420" cy="117.5" r="1.3" fill="#f07c28"/>
<circle cx="426.1" cy="121.6" r="1.3" fill="#f07c28"/>
<circle cx="432.2" cy="125.8" r="1.3" fill="#f07c28"/>
</g>
<path d="M55 187.1H182.2M55 216.8H182.2M55 246.5H182.2M55 276.2H182.2M55 305.9H182.2M55 335.6H182.2M86.8 187.1V335.6M118.6 187.1V335.6M150.4 187.1V335.6M182.2 187.1V335.6" stroke="#f6f6f6" stroke-width="1" fill="none"/>
<path d="M55 187.1V335.6" stroke="#b2b2b2" stroke-width="1.3" fill="none"/>
<path d="M55 291.1H182.2" stroke="#b2b2b2" stroke-width="1.3" fill="none"/>
<g clip-path="url(#clipc)">
<path d="M55 295.4L61.4 296.4L67.7 297.5L74.1 298.7L80.4 300L86.8 301.4L93.2 302.9L99.5 304.5L105.9 306.2L112.2 308L118.6 309.9L125 311.9L131.3 314L137.7 316.2L144 318.4L150.4 320.8L156.8 323.3L163.1 325.9L169.5 328.6L175.8 331.3L182.2 334.2" stroke="#7fa6dc" stroke-width="0.85" fill="none" opacity="0.8"/>
<path d="M55 293.5L56.9 296.6L53.1 296.6Z" fill="#2a6bd2"/>
<path d="M61.4 294.5L63.2 297.6L59.5 297.6Z" fill="#2a6bd2"/>
<path d="M67.7 295.7L69.6 298.8L65.9 298.8Z" fill="#2a6bd2"/>
<path d="M74.1 296.9L75.9 300L72.2 300Z" fill="#2a6bd2"/>
<path d="M80.4 298.2L82.3 301.3L78.6 301.3Z" fill="#2a6bd2"/>
<path d="M86.8 299.6L88.6 302.7L85 302.7Z" fill="#2a6bd2"/>
<path d="M93.2 301.1L95 304.2L91.3 304.2Z" fill="#2a6bd2"/>
<path d="M99.5 302.7L101.4 305.8L97.7 305.8Z" fill="#2a6bd2"/>
<path d="M105.9 304.4L107.7 307.5L104 307.5Z" fill="#2a6bd2"/>
<path d="M112.2 306.1L114.1 309.2L110.4 309.2Z" fill="#2a6bd2"/>
<path d="M118.6 308L120.4 311.1L116.8 311.1Z" fill="#2a6bd2"/>
<path d="M125 310L126.8 313.1L123.1 313.1Z" fill="#2a6bd2"/>
<path d="M131.3 312.1L133.2 315.2L129.5 315.2Z" fill="#2a6bd2"/>
<path d="M137.7 314.3L139.5 317.4L135.8 317.4Z" fill="#2a6bd2"/>
<path d="M144 316.6L145.9 319.7L142.2 319.7Z" fill="#2a6bd2"/>
<path d="M150.4 319L152.2 322.1L148.5 322.1Z" fill="#2a6bd2"/>
<path d="M156.8 321.4L158.6 324.5L154.9 324.5Z" fill="#2a6bd2"/>
<path d="M163.1 324L165 327.1L161.3 327.1Z" fill="#2a6bd2"/>
<path d="M169.5 326.7L171.3 329.8L167.6 329.8Z" fill="#2a6bd2"/>
<path d="M175.8 329.5L177.7 332.6L174 332.6Z" fill="#2a6bd2"/>
<path d="M182.2 332.3L184 335.4L180.3 335.4Z" fill="#2a6bd2"/>
<path d="M55 287.2L61.4 288.2L67.7 289.3L74.1 290.5L80.4 291.9L86.8 293.3L93.2 294.9L99.5 296.7L105.9 298.5L112.2 300.5L118.6 302.6L125 304.8L131.3 307.2L137.7 309.7L144 312.3L150.4 315L156.8 317.8L163.1 320.8L169.5 323.9L175.8 327.1L182.2 330.5" stroke="#7c8aa5" stroke-width="0.85" fill="none" opacity="0.8"/>
<circle cx="55" cy="287.2" r="1.3" fill="#1f3864"/>
<circle cx="61.4" cy="288.2" r="1.3" fill="#1f3864"/>
<circle cx="67.7" cy="289.3" r="1.3" fill="#1f3864"/>
<circle cx="74.1" cy="290.5" r="1.3" fill="#1f3864"/>
<circle cx="80.4" cy="291.9" r="1.3" fill="#1f3864"/>
<circle cx="86.8" cy="293.3" r="1.3" fill="#1f3864"/>
<circle cx="93.2" cy="294.9" r="1.3" fill="#1f3864"/>
<circle cx="99.5" cy="296.7" r="1.3" fill="#1f3864"/>
<circle cx="105.9" cy="298.5" r="1.3" fill="#1f3864"/>
<circle cx="112.2" cy="300.5" r="1.3" fill="#1f3864"/>
<circle cx="118.6" cy="302.6" r="1.3" fill="#1f3864"/>
<circle cx="125" cy="304.8" r="1.3" fill="#1f3864"/>
<circle cx="131.3" cy="307.2" r="1.3" fill="#1f3864"/>
<circle cx="137.7" cy="309.7" r="1.3" fill="#1f3864"/>
<circle cx="144" cy="312.3" r="1.3" fill="#1f3864"/>
<circle cx="150.4" cy="315" r="1.3" fill="#1f3864"/>
<circle cx="156.8" cy="317.8" r="1.3" fill="#1f3864"/>
<circle cx="163.1" cy="320.8" r="1.3" fill="#1f3864"/>
<circle cx="169.5" cy="323.9" r="1.3" fill="#1f3864"/>
<circle cx="175.8" cy="327.1" r="1.3" fill="#1f3864"/>
<circle cx="182.2" cy="330.5" r="1.3" fill="#1f3864"/>
<path d="M55 279.8L61.4 281L67.7 282.4L74.1 283.9L80.4 285.5L86.8 287.2L93.2 289L99.5 291L105.9 293L112.2 295.2L118.6 297.5L125 299.9L131.3 302.4L137.7 305.1L144 307.8L150.4 310.7L156.8 313.7L163.1 316.8L169.5 320L175.8 323.3L182.2 326.8" stroke="#cfcfcf" stroke-width="0.85" fill="none" opacity="0.8"/>
<path d="M55 277.9L56.9 281L53.1 281Z" fill="#a5a5a5"/>
<path d="M61.4 279.2L63.2 282.3L59.5 282.3Z" fill="#a5a5a5"/>
<path d="M67.7 280.6L69.6 283.7L65.9 283.7Z" fill="#a5a5a5"/>
<path d="M74.1 282L75.9 285.1L72.2 285.1Z" fill="#a5a5a5"/>
<path d="M80.4 283.6L82.3 286.7L78.6 286.7Z" fill="#a5a5a5"/>
<path d="M86.8 285.3L88.6 288.4L85 288.4Z" fill="#a5a5a5"/>
<path d="M93.2 287.2L95 290.3L91.3 290.3Z" fill="#a5a5a5"/>
<path d="M99.5 289.1L101.4 292.2L97.7 292.2Z" fill="#a5a5a5"/>
<path d="M105.9 291.2L107.7 294.3L104 294.3Z" fill="#a5a5a5"/>
<path d="M112.2 293.3L114.1 296.4L110.4 296.4Z" fill="#a5a5a5"/>
<path d="M118.6 295.6L120.4 298.7L116.8 298.7Z" fill="#a5a5a5"/>
<path d="M125 298L126.8 301.1L123.1 301.1Z" fill="#a5a5a5"/>
<path d="M131.3 300.6L133.2 303.7L129.5 303.7Z" fill="#a5a5a5"/>
<path d="M137.7 303.2L139.5 306.3L135.8 306.3Z" fill="#a5a5a5"/>
<path d="M144 306L145.9 309.1L142.2 309.1Z" fill="#a5a5a5"/>
<path d="M150.4 308.8L152.2 311.9L148.5 311.9Z" fill="#a5a5a5"/>
<path d="M156.8 311.8L158.6 314.9L154.9 314.9Z" fill="#a5a5a5"/>
<path d="M163.1 314.9L165 318L161.3 318Z" fill="#a5a5a5"/>
<path d="M169.5 318.2L171.3 321.3L167.6 321.3Z" fill="#a5a5a5"/>
<path d="M175.8 321.5L177.7 324.6L174 324.6Z" fill="#a5a5a5"/>
<path d="M182.2 324.9L184 328L180.3 328Z" fill="#a5a5a5"/>
<path d="M55 271.5L61.4 273.2L67.7 274.9L74.1 276.8L80.4 278.7L86.8 280.8L93.2 282.9L99.5 285.2L105.9 287.5L112.2 290L118.6 292.5L125 295.1L131.3 297.9L137.7 300.7L144 303.6L150.4 306.6L156.8 309.7L163.1 312.9L169.5 316.2L175.8 319.6L182.2 323.1" stroke="#86c4ee" stroke-width="0.85" fill="none" opacity="0.8"/>
<path d="M55 269.6L56.9 272.7L53.1 272.7Z" fill="#2aa0e6"/>
<path d="M61.4 271.3L63.2 274.4L59.5 274.4Z" fill="#2aa0e6"/>
<path d="M67.7 273.1L69.6 276.2L65.9 276.2Z" fill="#2aa0e6"/>
<path d="M74.1 274.9L75.9 278L72.2 278Z" fill="#2aa0e6"/>
<path d="M80.4 276.9L82.3 280L78.6 280Z" fill="#2aa0e6"/>
<path d="M86.8 278.9L88.6 282L85 282Z" fill="#2aa0e6"/>
<path d="M93.2 281.1L95 284.2L91.3 284.2Z" fill="#2aa0e6"/>
<path d="M99.5 283.3L101.4 286.4L97.7 286.4Z" fill="#2aa0e6"/>
<path d="M105.9 285.7L107.7 288.8L104 288.8Z" fill="#2aa0e6"/>
<path d="M112.2 288.1L114.1 291.2L110.4 291.2Z" fill="#2aa0e6"/>
<path d="M118.6 290.6L120.4 293.7L116.8 293.7Z" fill="#2aa0e6"/>
<path d="M125 293.3L126.8 296.4L123.1 296.4Z" fill="#2aa0e6"/>
<path d="M131.3 296L133.2 299.1L129.5 299.1Z" fill="#2aa0e6"/>
<path d="M137.7 298.8L139.5 301.9L135.8 301.9Z" fill="#2aa0e6"/>
<path d="M144 301.7L145.9 304.8L142.2 304.8Z" fill="#2aa0e6"/>
<path d="M150.4 304.7L152.2 307.8L148.5 307.8Z" fill="#2aa0e6"/>
<path d="M156.8 307.8L158.6 310.9L154.9 310.9Z" fill="#2aa0e6"/>
<path d="M163.1 311.1L165 314.2L161.3 314.2Z" fill="#2aa0e6"/>
<path d="M169.5 314.4L171.3 317.5L167.6 317.5Z" fill="#2aa0e6"/>
<path d="M175.8 317.7L177.7 320.8L174 320.8Z" fill="#2aa0e6"/>
<path d="M182.2 321.2L184 324.3L180.3 324.3Z" fill="#2aa0e6"/>
<path d="M55 262.5L61.4 264.4L67.7 266.4L74.1 268.5L80.4 270.6L86.8 272.9L93.2 275.3L99.5 277.8L105.9 280.4L112.2 283.1L118.6 285.9L125 288.8L131.3 291.8L137.7 294.9L144 298.1L150.4 301.4L156.8 304.8L163.1 308.3L169.5 311.9L175.8 315.6L182.2 319.4" stroke="#b0b0b0" stroke-width="0.85" fill="none" opacity="0.8"/>
<circle cx="55" cy="262.5" r="1.3" fill="#7f7f7f"/>
<circle cx="61.4" cy="264.4" r="1.3" fill="#7f7f7f"/>
<circle cx="67.7" cy="266.4" r="1.3" fill="#7f7f7f"/>
<circle cx="74.1" cy="268.5" r="1.3" fill="#7f7f7f"/>
<circle cx="80.4" cy="270.6" r="1.3" fill="#7f7f7f"/>
<circle cx="86.8" cy="272.9" r="1.3" fill="#7f7f7f"/>
<circle cx="93.2" cy="275.3" r="1.3" fill="#7f7f7f"/>
<circle cx="99.5" cy="277.8" r="1.3" fill="#7f7f7f"/>
<circle cx="105.9" cy="280.4" r="1.3" fill="#7f7f7f"/>
<circle cx="112.2" cy="283.1" r="1.3" fill="#7f7f7f"/>
<circle cx="118.6" cy="285.9" r="1.3" fill="#7f7f7f"/>
<circle cx="125" cy="288.8" r="1.3" fill="#7f7f7f"/>
<circle cx="131.3" cy="291.8" r="1.3" fill="#7f7f7f"/>
<circle cx="137.7" cy="294.9" r="1.3" fill="#7f7f7f"/>
<circle cx="144" cy="298.1" r="1.3" fill="#7f7f7f"/>
<circle cx="150.4" cy="301.4" r="1.3" fill="#7f7f7f"/>
<circle cx="156.8" cy="304.8" r="1.3" fill="#7f7f7f"/>
<circle cx="163.1" cy="308.3" r="1.3" fill="#7f7f7f"/>
<circle cx="169.5" cy="311.9" r="1.3" fill="#7f7f7f"/>
<circle cx="175.8" cy="315.6" r="1.3" fill="#7f7f7f"/>
<circle cx="182.2" cy="319.4" r="1.3" fill="#7f7f7f"/>
<path d="M55 253.5L61.4 255.6L67.7 257.8L74.1 260.2L80.4 262.6L86.8 265.1L93.2 267.8L99.5 270.5L105.9 273.4L112.2 276.3L118.6 279.4L125 282.6L131.3 285.8L137.7 289.2L144 292.7L150.4 296.2L156.8 299.9L163.1 303.7L169.5 307.6L175.8 311.6L182.2 315.7" stroke="#ff6060" stroke-width="0.85" fill="none" opacity="0.8"/>
<circle cx="55" cy="253.5" r="1.3" fill="#ff0000"/>
<circle cx="61.4" cy="255.6" r="1.3" fill="#ff0000"/>
<circle cx="67.7" cy="257.8" r="1.3" fill="#ff0000"/>
<circle cx="74.1" cy="260.2" r="1.3" fill="#ff0000"/>
<circle cx="80.4" cy="262.6" r="1.3" fill="#ff0000"/>
<circle cx="86.8" cy="265.1" r="1.3" fill="#ff0000"/>
<circle cx="93.2" cy="267.8" r="1.3" fill="#ff0000"/>
<circle cx="99.5" cy="270.5" r="1.3" fill="#ff0000"/>
<circle cx="105.9" cy="273.4" r="1.3" fill="#ff0000"/>
<circle cx="112.2" cy="276.3" r="1.3" fill="#ff0000"/>
<circle cx="118.6" cy="279.4" r="1.3" fill="#ff0000"/>
<circle cx="125" cy="282.6" r="1.3" fill="#ff0000"/>
<circle cx="131.3" cy="285.8" r="1.3" fill="#ff0000"/>
<circle cx="137.7" cy="289.2" r="1.3" fill="#ff0000"/>
<circle cx="144" cy="292.7" r="1.3" fill="#ff0000"/>
<circle cx="150.4" cy="296.2" r="1.3" fill="#ff0000"/>
<circle cx="156.8" cy="299.9" r="1.3" fill="#ff0000"/>
<circle cx="163.1" cy="303.7" r="1.3" fill="#ff0000"/>
<circle cx="169.5" cy="307.6" r="1.3" fill="#ff0000"/>
<circle cx="175.8" cy="311.6" r="1.3" fill="#ff0000"/>
<circle cx="182.2" cy="315.7" r="1.3" fill="#ff0000"/>
<path d="M55 245.3L61.4 247.6L67.7 250L74.1 252.5L80.4 255.1L86.8 257.8L93.2 260.6L99.5 263.6L105.9 266.7L112.2 269.8L118.6 273.1L125 276.5L131.3 280L137.7 283.6L144 287.3L150.4 291.2L156.8 295.1L163.1 299.2L169.5 303.3L175.8 307.6L182.2 312" stroke="#8098c8" stroke-width="0.85" fill="none" opacity="0.8"/>
<path d="M55 243.4L56.9 246.5L53.1 246.5Z" fill="#203d7a"/>
<path d="M61.4 245.7L63.2 248.8L59.5 248.8Z" fill="#203d7a"/>
<path d="M67.7 248.1L69.6 251.2L65.9 251.2Z" fill="#203d7a"/>
<path d="M74.1 250.6L75.9 253.7L72.2 253.7Z" fill="#203d7a"/>
<path d="M80.4 253.2L82.3 256.3L78.6 256.3Z" fill="#203d7a"/>
<path d="M86.8 256L88.6 259.1L85 259.1Z" fill="#203d7a"/>
<path d="M93.2 258.8L95 261.9L91.3 261.9Z" fill="#203d7a"/>
<path d="M99.5 261.7L101.4 264.8L97.7 264.8Z" fill="#203d7a"/>
<path d="M105.9 264.8L107.7 267.9L104 267.9Z" fill="#203d7a"/>
<path d="M112.2 268L114.1 271.1L110.4 271.1Z" fill="#203d7a"/>
<path d="M118.6 271.2L120.4 274.3L116.8 274.3Z" fill="#203d7a"/>
<path d="M125 274.6L126.8 277.7L123.1 277.7Z" fill="#203d7a"/>
<path d="M131.3 278.1L133.2 281.2L129.5 281.2Z" fill="#203d7a"/>
<path d="M137.7 281.7L139.5 284.8L135.8 284.8Z" fill="#203d7a"/>
<path d="M144 285.5L145.9 288.6L142.2 288.6Z" fill="#203d7a"/>
<path d="M150.4 289.3L152.2 292.4L148.5 292.4Z" fill="#203d7a"/>
<path d="M156.8 293.2L158.6 296.3L154.9 296.3Z" fill="#203d7a"/>
<path d="M163.1 297.3L165 300.4L161.3 300.4Z" fill="#203d7a"/>
<path d="M169.5 301.5L171.3 304.6L167.6 304.6Z" fill="#203d7a"/>
<path d="M175.8 305.8L177.7 308.9L174 308.9Z" fill="#203d7a"/>
<path d="M182.2 310.1L184 313.2L180.3 313.2Z" fill="#203d7a"/>
<path d="M55 235.7L61.4 238.1L67.7 240.6L74.1 243.3L80.4 246.1L86.8 249L93.2 252L99.5 255.2L105.9 258.5L112.2 261.9L118.6 265.5L125 269.2L131.3 273L137.7 277L144 281.1L150.4 285.3L156.8 289.6L163.1 294.1L169.5 298.7L175.8 303.4L182.2 308.3" stroke="#d9926a" stroke-width="0.85" fill="none" opacity="0.8"/>
<circle cx="55" cy="235.7" r="1.3" fill="#b4500f"/>
<circle cx="61.4" cy="238.1" r="1.3" fill="#b4500f"/>
<circle cx="67.7" cy="240.6" r="1.3" fill="#b4500f"/>
<circle cx="74.1" cy="243.3" r="1.3" fill="#b4500f"/>
<circle cx="80.4" cy="246.1" r="1.3" fill="#b4500f"/>
<circle cx="86.8" cy="249" r="1.3" fill="#b4500f"/>
<circle cx="93.2" cy="252" r="1.3" fill="#b4500f"/>
<circle cx="99.5" cy="255.2" r="1.3" fill="#b4500f"/>
<circle cx="105.9" cy="258.5" r="1.3" fill="#b4500f"/>
<circle cx="112.2" cy="261.9" r="1.3" fill="#b4500f"/>
<circle cx="118.6" cy="265.5" r="1.3" fill="#b4500f"/>
<circle cx="125" cy="269.2" r="1.3" fill="#b4500f"/>
<circle cx="131.3" cy="273" r="1.3" fill="#b4500f"/>
<circle cx="137.7" cy="277" r="1.3" fill="#b4500f"/>
<circle cx="144" cy="281.1" r="1.3" fill="#b4500f"/>
<circle cx="150.4" cy="285.3" r="1.3" fill="#b4500f"/>
<circle cx="156.8" cy="289.6" r="1.3" fill="#b4500f"/>
<circle cx="163.1" cy="294.1" r="1.3" fill="#b4500f"/>
<circle cx="169.5" cy="298.7" r="1.3" fill="#b4500f"/>
<circle cx="175.8" cy="303.4" r="1.3" fill="#b4500f"/>
<circle cx="182.2" cy="308.3" r="1.3" fill="#b4500f"/>
<path d="M55 226.4L61.4 229.1L67.7 231.9L74.1 234.8L80.4 237.9L86.8 241.1L93.2 244.4L99.5 247.9L105.9 251.4L112.2 255.2L118.6 259L125 263L131.3 267.1L137.7 271.3L144 275.7L150.4 280.2L156.8 284.8L163.1 289.6L169.5 294.4L175.8 299.5L182.2 304.6" stroke="#9a9a9a" stroke-width="0.85" fill="none" opacity="0.8"/>
<circle cx="55" cy="226.4" r="1.3" fill="#595959"/>
<circle cx="61.4" cy="229.1" r="1.3" fill="#595959"/>
<circle cx="67.7" cy="231.9" r="1.3" fill="#595959"/>
<circle cx="74.1" cy="234.8" r="1.3" fill="#595959"/>
<circle cx="80.4" cy="237.9" r="1.3" fill="#595959"/>
<circle cx="86.8" cy="241.1" r="1.3" fill="#595959"/>
<circle cx="93.2" cy="244.4" r="1.3" fill="#595959"/>
<circle cx="99.5" cy="247.9" r="1.3" fill="#595959"/>
<circle cx="105.9" cy="251.4" r="1.3" fill="#595959"/>
<circle cx="112.2" cy="255.2" r="1.3" fill="#595959"/>
<circle cx="118.6" cy="259" r="1.3" fill="#595959"/>
<circle cx="125" cy="263" r="1.3" fill="#595959"/>
<circle cx="131.3" cy="267.1" r="1.3" fill="#595959"/>
<circle cx="137.7" cy="271.3" r="1.3" fill="#595959"/>
<circle cx="144" cy="275.7" r="1.3" fill="#595959"/>
<circle cx="150.4" cy="280.2" r="1.3" fill="#595959"/>
<circle cx="156.8" cy="284.8" r="1.3" fill="#595959"/>
<circle cx="163.1" cy="289.6" r="1.3" fill="#595959"/>
<circle cx="169.5" cy="294.4" r="1.3" fill="#595959"/>
<circle cx="175.8" cy="299.5" r="1.3" fill="#595959"/>
<circle cx="182.2" cy="304.6" r="1.3" fill="#595959"/>
<path d="M55 216.9L61.4 219.9L67.7 223.1L74.1 226.3L80.4 229.7L86.8 233.2L93.2 236.9L99.5 240.7L105.9 244.5L112.2 248.6L118.6 252.7L125 257L131.3 261.3L137.7 265.9L144 270.5L150.4 275.2L156.8 280.1L163.1 285.1L169.5 290.3L175.8 295.5L182.2 300.9" stroke="#cfae5a" stroke-width="0.85" fill="none" opacity="0.8"/>
<circle cx="55" cy="216.9" r="1.3" fill="#a67c00"/>
<circle cx="61.4" cy="219.9" r="1.3" fill="#a67c00"/>
<circle cx="67.7" cy="223.1" r="1.3" fill="#a67c00"/>
<circle cx="74.1" cy="226.3" r="1.3" fill="#a67c00"/>
<circle cx="80.4" cy="229.7" r="1.3" fill="#a67c00"/>
<circle cx="86.8" cy="233.2" r="1.3" fill="#a67c00"/>
<circle cx="93.2" cy="236.9" r="1.3" fill="#a67c00"/>
<circle cx="99.5" cy="240.7" r="1.3" fill="#a67c00"/>
<circle cx="105.9" cy="244.5" r="1.3" fill="#a67c00"/>
<circle cx="112.2" cy="248.6" r="1.3" fill="#a67c00"/>
<circle cx="118.6" cy="252.7" r="1.3" fill="#a67c00"/>
<circle cx="125" cy="257" r="1.3" fill="#a67c00"/>
<circle cx="131.3" cy="261.3" r="1.3" fill="#a67c00"/>
<circle cx="137.7" cy="265.9" r="1.3" fill="#a67c00"/>
<circle cx="144" cy="270.5" r="1.3" fill="#a67c00"/>
<circle cx="150.4" cy="275.2" r="1.3" fill="#a67c00"/>
<circle cx="156.8" cy="280.1" r="1.3" fill="#a67c00"/>
<circle cx="163.1" cy="285.1" r="1.3" fill="#a67c00"/>
<circle cx="169.5" cy="290.3" r="1.3" fill="#a67c00"/>
<circle cx="175.8" cy="295.5" r="1.3" fill="#a67c00"/>
<circle cx="182.2" cy="300.9" r="1.3" fill="#a67c00"/>
<path d="M55 207.3L61.4 210.6L67.7 214L74.1 217.5L80.4 221.2L86.8 225L93.2 228.9L99.5 233L105.9 237.2L112.2 241.5L118.6 245.9L125 250.5L131.3 255.1L137.7 260L144 264.9L150.4 270L156.8 275.2L163.1 280.5L169.5 285.9L175.8 291.5L182.2 297.2" stroke="#f6b183" stroke-width="0.85" fill="none" opacity="0.8"/>
<circle cx="55" cy="207.3" r="1.3" fill="#f07c28"/>
<circle cx="61.4" cy="210.6" r="1.3" fill="#f07c28"/>
<circle cx="67.7" cy="214" r="1.3" fill="#f07c28"/>
<circle cx="74.1" cy="217.5" r="1.3" fill="#f07c28"/>
<circle cx="80.4" cy="221.2" r="1.3" fill="#f07c28"/>
<circle cx="86.8" cy="225" r="1.3" fill="#f07c28"/>
<circle cx="93.2" cy="228.9" r="1.3" fill="#f07c28"/>
<circle cx="99.5" cy="233" r="1.3" fill="#f07c28"/>
<circle cx="105.9" cy="237.2" r="1.3" fill="#f07c28"/>
<circle cx="112.2" cy="241.5" r="1.3" fill="#f07c28"/>
<circle cx="118.6" cy="245.9" r="1.3" fill="#f07c28"/>
<circle cx="125" cy="250.5" r="1.3" fill="#f07c28"/>
<circle cx="131.3" cy="255.1" r="1.3" fill="#f07c28"/>
<circle cx="137.7" cy="260" r="1.3" fill="#f07c28"/>
<circle cx="144" cy="264.9" r="1.3" fill="#f07c28"/>
<circle cx="150.4" cy="270" r="1.3" fill="#f07c28"/>
<circle cx="156.8" cy="275.2" r="1.3" fill="#f07c28"/>
<circle cx="163.1" cy="280.5" r="1.3" fill="#f07c28"/>
<circle cx="169.5" cy="285.9" r="1.3" fill="#f07c28"/>
<circle cx="175.8" cy="291.5" r="1.3" fill="#f07c28"/>
<circle cx="182.2" cy="297.2" r="1.3" fill="#f07c28"/>
</g>
<path d="M310.7 197.2H443.6M310.7 227.2H443.6M310.7 257.3H443.6M310.7 287.3H443.6M310.7 317.4H443.6M310.7 347.4H443.6M343.9 197.2V347.4M377.1 197.2V347.4M410.4 197.2V347.4M443.6 197.2V347.4" stroke="#f6f6f6" stroke-width="1" fill="none"/>
<path d="M310.7 197.2V347.4" stroke="#b2b2b2" stroke-width="1.3" fill="none"/>
<path d="M310.7 302.3H443.6" stroke="#b2b2b2" stroke-width="1.3" fill="none"/>
<g clip-path="url(#clipd)">
<path d="M310.7 268.5L317.3 271.6L324 274.8L330.6 278.1L337.3 281.6L343.9 285.1L350.6 288.7L357.2 292.4L363.9 296.3L370.5 300.2L377.1 304.2L383.8 308.3L390.4 312.6L397.1 316.9L403.7 321.3L410.4 325.8L417 330.5L423.7 335.2L430.3 340L437 345L443.6 350" stroke="#ff5050" stroke-width="0.85" fill="none" opacity="0.8"/>
<path d="M310.7 266.4L312.8 269.9L308.6 269.9Z" fill="#ff0000"/>
<path d="M317.3 269.5L319.4 273L315.3 273Z" fill="#ff0000"/>
<path d="M324 272.7L326.1 276.2L321.9 276.2Z" fill="#ff0000"/>
<path d="M330.6 276.1L332.7 279.5L328.6 279.5Z" fill="#ff0000"/>
<path d="M337.3 279.5L339.4 283L335.2 283Z" fill="#ff0000"/>
<path d="M343.9 283L346 286.5L341.9 286.5Z" fill="#ff0000"/>
<path d="M350.6 286.6L352.6 290.1L348.5 290.1Z" fill="#ff0000"/>
<path d="M357.2 290.3L359.3 293.8L355.1 293.8Z" fill="#ff0000"/>
<path d="M363.9 294.2L365.9 297.6L361.8 297.6Z" fill="#ff0000"/>
<path d="M370.5 298.1L372.6 301.6L368.4 301.6Z" fill="#ff0000"/>
<path d="M377.1 302.1L379.2 305.6L375.1 305.6Z" fill="#ff0000"/>
<path d="M383.8 306.2L385.9 309.7L381.7 309.7Z" fill="#ff0000"/>
<path d="M390.4 310.5L392.5 313.9L388.4 313.9Z" fill="#ff0000"/>
<path d="M397.1 314.8L399.2 318.3L395 318.3Z" fill="#ff0000"/>
<path d="M403.7 319.2L405.8 322.7L401.7 322.7Z" fill="#ff0000"/>
<path d="M410.4 323.8L412.4 327.2L408.3 327.2Z" fill="#ff0000"/>
<path d="M417 328.4L419.1 331.9L414.9 331.9Z" fill="#ff0000"/>
<path d="M423.7 333.1L425.7 336.6L421.6 336.6Z" fill="#ff0000"/>
<path d="M430.3 337.9L432.4 341.4L428.2 341.4Z" fill="#ff0000"/>
<path d="M437 342.9L439 346.4L434.9 346.4Z" fill="#ff0000"/>
<path d="M443.6 347.9L445.7 351.4L441.5 351.4Z" fill="#ff0000"/>
<path d="M310.7 268.2L317.3 271.1L324 274.1L330.6 277.2L337.3 280.5L343.9 283.8L350.6 287.2L357.2 290.8L363.9 294.4L370.5 298.2L377.1 302L383.8 306L390.4 310L397.1 314.2L403.7 318.4L410.4 322.8L417 327.3L423.7 331.8L430.3 336.5L437 341.3L443.6 346.1" stroke="#ffd966" stroke-width="0.85" fill="none" opacity="0.8"/>
<circle cx="310.7" cy="268.2" r="1.5" fill="#ffc000"/>
<circle cx="317.3" cy="271.1" r="1.5" fill="#ffc000"/>
<circle cx="324" cy="274.1" r="1.5" fill="#ffc000"/>
<circle cx="330.6" cy="277.2" r="1.5" fill="#ffc000"/>
<circle cx="337.3" cy="280.5" r="1.5" fill="#ffc000"/>
<circle cx="343.9" cy="283.8" r="1.5" fill="#ffc000"/>
<circle cx="350.6" cy="287.2" r="1.5" fill="#ffc000"/>
<circle cx="357.2" cy="290.8" r="1.5" fill="#ffc000"/>
<circle cx="363.9" cy="294.4" r="1.5" fill="#ffc000"/>
<circle cx="370.5" cy="298.2" r="1.5" fill="#ffc000"/>
<circle cx="377.1" cy="302" r="1.5" fill="#ffc000"/>
<circle cx="383.8" cy="306" r="1.5" fill="#ffc000"/>
<circle cx="390.4" cy="310" r="1.5" fill="#ffc000"/>
<circle cx="397.1" cy="314.2" r="1.5" fill="#ffc000"/>
<circle cx="403.7" cy="318.4" r="1.5" fill="#ffc000"/>
<circle cx="410.4" cy="322.8" r="1.5" fill="#ffc000"/>
<circle cx="417" cy="327.3" r="1.5" fill="#ffc000"/>
<circle cx="423.7" cy="331.8" r="1.5" fill="#ffc000"/>
<circle cx="430.3" cy="336.5" r="1.5" fill="#ffc000"/>
<circle cx="437" cy="341.3" r="1.5" fill="#ffc000"/>
<circle cx="443.6" cy="346.1" r="1.5" fill="#ffc000"/>
<path d="M310.7 267.8L317.3 270.5L324 273.4L330.6 276.3L337.3 279.4L343.9 282.5L350.6 285.8L357.2 289.1L363.9 292.6L370.5 296.2L377.1 299.8L383.8 303.6L390.4 307.5L397.1 311.5L403.7 315.6L410.4 319.7L417 324L423.7 328.4L430.3 332.9L437 337.6L443.6 342.3" stroke="#a0a0a0" stroke-width="0.85" fill="none" opacity="0.8"/>
<circle cx="310.7" cy="267.8" r="1.5" fill="#7f7f7f"/>
<circle cx="317.3" cy="270.5" r="1.5" fill="#7f7f7f"/>
<circle cx="324" cy="273.4" r="1.5" fill="#7f7f7f"/>
<circle cx="330.6" cy="276.3" r="1.5" fill="#7f7f7f"/>
<circle cx="337.3" cy="279.4" r="1.5" fill="#7f7f7f"/>
<circle cx="343.9" cy="282.5" r="1.5" fill="#7f7f7f"/>
<circle cx="350.6" cy="285.8" r="1.5" fill="#7f7f7f"/>
<circle cx="357.2" cy="289.1" r="1.5" fill="#7f7f7f"/>
<circle cx="363.9" cy="292.6" r="1.5" fill="#7f7f7f"/>
<circle cx="370.5" cy="296.2" r="1.5" fill="#7f7f7f"/>
<circle cx="377.1" cy="299.8" r="1.5" fill="#7f7f7f"/>
<circle cx="383.8" cy="303.6" r="1.5" fill="#7f7f7f"/>
<circle cx="390.4" cy="307.5" r="1.5" fill="#7f7f7f"/>
<circle cx="397.1" cy="311.5" r="1.5" fill="#7f7f7f"/>
<circle cx="403.7" cy="315.6" r="1.5" fill="#7f7f7f"/>
<circle cx="410.4" cy="319.7" r="1.5" fill="#7f7f7f"/>
<circle cx="417" cy="324" r="1.5" fill="#7f7f7f"/>
<circle cx="423.7" cy="328.4" r="1.5" fill="#7f7f7f"/>
<circle cx="430.3" cy="332.9" r="1.5" fill="#7f7f7f"/>
<circle cx="437" cy="337.6" r="1.5" fill="#7f7f7f"/>
<circle cx="443.6" cy="342.3" r="1.5" fill="#7f7f7f"/>
<path d="M310.7 267.5L317.3 270L324 272.7L330.6 275.4L337.3 278.3L343.9 281.2L350.6 284.3L357.2 287.5L363.9 290.8L370.5 294.2L377.1 297.6L383.8 301.2L390.4 305L397.1 308.8L403.7 312.7L410.4 316.7L417 320.8L423.7 325.1L430.3 329.4L437 333.8L443.6 338.4" stroke="#f4b183" stroke-width="0.85" fill="none" opacity="0.8"/>
<path d="M310.7 265.4L312.8 268.9L308.6 268.9Z" fill="#ed7d31"/>
<path d="M317.3 267.9L319.4 271.4L315.3 271.4Z" fill="#ed7d31"/>
<path d="M324 270.6L326.1 274.1L321.9 274.1Z" fill="#ed7d31"/>
<path d="M330.6 273.3L332.7 276.8L328.6 276.8Z" fill="#ed7d31"/>
<path d="M337.3 276.2L339.4 279.7L335.2 279.7Z" fill="#ed7d31"/>
<path d="M343.9 279.2L346 282.6L341.9 282.6Z" fill="#ed7d31"/>
<path d="M350.6 282.2L352.6 285.7L348.5 285.7Z" fill="#ed7d31"/>
<path d="M357.2 285.4L359.3 288.9L355.1 288.9Z" fill="#ed7d31"/>
<path d="M363.9 288.7L365.9 292.2L361.8 292.2Z" fill="#ed7d31"/>
<path d="M370.5 292.1L372.6 295.5L368.4 295.5Z" fill="#ed7d31"/>
<path d="M377.1 295.6L379.2 299L375.1 299Z" fill="#ed7d31"/>
<path d="M383.8 299.2L385.9 302.6L381.7 302.6Z" fill="#ed7d31"/>
<path d="M390.4 302.9L392.5 306.3L388.4 306.3Z" fill="#ed7d31"/>
<path d="M397.1 306.7L399.2 310.2L395 310.2Z" fill="#ed7d31"/>
<path d="M403.7 310.6L405.8 314.1L401.7 314.1Z" fill="#ed7d31"/>
<path d="M410.4 314.6L412.4 318.1L408.3 318.1Z" fill="#ed7d31"/>
<path d="M417 318.7L419.1 322.2L414.9 322.2Z" fill="#ed7d31"/>
<path d="M423.7 323L425.7 326.5L421.6 326.5Z" fill="#ed7d31"/>
<path d="M430.3 327.3L432.4 330.8L428.2 330.8Z" fill="#ed7d31"/>
<path d="M437 331.8L439 335.2L434.9 335.2Z" fill="#ed7d31"/>
<path d="M443.6 336.3L445.7 339.8L441.5 339.8Z" fill="#ed7d31"/>
<path d="M310.7 267.1L317.3 269.5L324 271.9L330.6 274.5L337.3 277.2L343.9 280L350.6 282.8L357.2 285.8L363.9 288.9L370.5 292.2L377.1 295.5L383.8 298.9L390.4 302.4L397.1 306.1L403.7 309.8L410.4 313.7L417 317.6L423.7 321.7L430.3 325.9L437 330.1L443.6 334.5" stroke="#8c8c8c" stroke-width="0.85" fill="none" opacity="0.8" stroke-dasharray="1.5 1.5"/>
<circle cx="310.7" cy="267.1" r="1.2" fill="#595959"/>
<circle cx="317.3" cy="269.5" r="1.2" fill="#595959"/>
<circle cx="324" cy="271.9" r="1.2" fill="#595959"/>
<circle cx="330.6" cy="274.5" r="1.2" fill="#595959"/>
<circle cx="337.3" cy="277.2" r="1.2" fill="#595959"/>
<circle cx="343.9" cy="280" r="1.2" fill="#595959"/>
<circle cx="350.6" cy="282.8" r="1.2" fill="#595959"/>
<circle cx="357.2" cy="285.8" r="1.2" fill="#595959"/>
<circle cx="363.9" cy="288.9" r="1.2" fill="#595959"/>
<circle cx="370.5" cy="292.2" r="1.2" fill="#595959"/>
<circle cx="377.1" cy="295.5" r="1.2" fill="#595959"/>
<circle cx="383.8" cy="298.9" r="1.2" fill="#595959"/>
<circle cx="390.4" cy="302.4" r="1.2" fill="#595959"/>
<circle cx="397.1" cy="306.1" r="1.2" fill="#595959"/>
<circle cx="403.7" cy="309.8" r="1.2" fill="#595959"/>
<circle cx="410.4" cy="313.7" r="1.2" fill="#595959"/>
<circle cx="417" cy="317.6" r="1.2" fill="#595959"/>
<circle cx="423.7" cy="321.7" r="1.2" fill="#595959"/>
<circle cx="430.3" cy="325.9" r="1.2" fill="#595959"/>
<circle cx="437" cy="330.1" r="1.2" fill="#595959"/>
<circle cx="443.6" cy="334.5" r="1.2" fill="#595959"/>
<path d="M310.7 266.8L317.3 269L324 271.2L330.6 273.6L337.3 276.1L343.9 278.7L350.6 281.4L357.2 284.2L363.9 287.1L370.5 290.1L377.1 293.3L383.8 296.5L390.4 299.9L397.1 303.4L403.7 306.9L410.4 310.6L417 314.4L423.7 318.3L430.3 322.3L437 326.4L443.6 330.7" stroke="#92d050" stroke-width="0.85" fill="none" opacity="0.8"/>
<path d="M310.7 264.7L312.8 268.2L308.6 268.2Z" fill="#00b050"/>
<path d="M317.3 266.9L319.4 270.3L315.3 270.3Z" fill="#00b050"/>
<path d="M324 269.1L326.1 272.6L321.9 272.6Z" fill="#00b050"/>
<path d="M330.6 271.5L332.7 275L328.6 275Z" fill="#00b050"/>
<path d="M337.3 274L339.4 277.5L335.2 277.5Z" fill="#00b050"/>
<path d="M343.9 276.6L346 280.1L341.9 280.1Z" fill="#00b050"/>
<path d="M350.6 279.3L352.6 282.8L348.5 282.8Z" fill="#00b050"/>
<path d="M357.2 282.1L359.3 285.6L355.1 285.6Z" fill="#00b050"/>
<path d="M363.9 285L365.9 288.5L361.8 288.5Z" fill="#00b050"/>
<path d="M370.5 288.1L372.6 291.5L368.4 291.5Z" fill="#00b050"/>
<path d="M377.1 291.2L379.2 294.7L375.1 294.7Z" fill="#00b050"/>
<path d="M383.8 294.4L385.9 297.9L381.7 297.9Z" fill="#00b050"/>
<path d="M390.4 297.8L392.5 301.3L388.4 301.3Z" fill="#00b050"/>
<path d="M397.1 301.3L399.2 304.7L395 304.7Z" fill="#00b050"/>
<path d="M403.7 304.8L405.8 308.3L401.7 308.3Z" fill="#00b050"/>
<path d="M410.4 308.5L412.4 312L408.3 312Z" fill="#00b050"/>
<path d="M417 312.3L419.1 315.8L414.9 315.8Z" fill="#00b050"/>
<path d="M423.7 316.2L425.7 319.7L421.6 319.7Z" fill="#00b050"/>
<path d="M430.3 320.2L432.4 323.7L428.2 323.7Z" fill="#00b050"/>
<path d="M437 324.4L439 327.8L434.9 327.8Z" fill="#00b050"/>
<path d="M443.6 328.6L445.7 332.1L441.5 332.1Z" fill="#00b050"/>
<path d="M310.7 266.4L317.3 268.4L324 270.5L330.6 272.7L337.3 275L343.9 277.4L350.6 279.9L357.2 282.5L363.9 285.3L370.5 288.1L377.1 291.1L383.8 294.2L390.4 297.4L397.1 300.6L403.7 304.1L410.4 307.6L417 311.2L423.7 314.9L430.3 318.8L437 322.7L443.6 326.8" stroke="#ff5050" stroke-width="0.85" fill="none" opacity="0.8"/>
<rect x="309.1" y="264.8" width="3.2" height="3.2" fill="#ff0000"/>
<rect x="315.7" y="266.8" width="3.2" height="3.2" fill="#ff0000"/>
<rect x="322.4" y="268.9" width="3.2" height="3.2" fill="#ff0000"/>
<rect x="329" y="271.1" width="3.2" height="3.2" fill="#ff0000"/>
<rect x="335.7" y="273.4" width="3.2" height="3.2" fill="#ff0000"/>
<rect x="342.3" y="275.8" width="3.2" height="3.2" fill="#ff0000"/>
<rect x="348.9" y="278.3" width="3.2" height="3.2" fill="#ff0000"/>
<rect x="355.6" y="280.9" width="3.2" height="3.2" fill="#ff0000"/>
<rect x="362.2" y="283.7" width="3.2" height="3.2" fill="#ff0000"/>
<rect x="368.9" y="286.5" width="3.2" height="3.2" fill="#ff0000"/>
<rect x="375.5" y="289.5" width="3.2" height="3.2" fill="#ff0000"/>
<rect x="382.2" y="292.5" width="3.2" height="3.2" fill="#ff0000"/>
<rect x="388.8" y="295.7" width="3.2" height="3.2" fill="#ff0000"/>
<rect x="395.5" y="299" width="3.2" height="3.2" fill="#ff0000"/>
<rect x="402.1" y="302.4" width="3.2" height="3.2" fill="#ff0000"/>
<rect x="408.8" y="305.9" width="3.2" height="3.2" fill="#ff0000"/>
<rect x="415.4" y="309.6" width="3.2" height="3.2" fill="#ff0000"/>
<rect x="422" y="313.3" width="3.2" height="3.2" fill="#ff0000"/>
<rect x="428.7" y="317.2" width="3.2" height="3.2" fill="#ff0000"/>
<rect x="435.3" y="321.1" width="3.2" height="3.2" fill="#ff0000"/>
<rect x="442" y="325.2" width="3.2" height="3.2" fill="#ff0000"/>
<path d="M310.7 266.1L317.3 267.9L324 269.8L330.6 271.8L337.3 273.9L343.9 276.1L350.6 278.4L357.2 280.9L363.9 283.5L370.5 286.1L377.1 288.9L383.8 291.8L390.4 294.8L397.1 297.9L403.7 301.2L410.4 304.5L417 308L423.7 311.6L430.3 315.2L437 319L443.6 322.9" stroke="#d88a5a" stroke-width="0.85" fill="none" opacity="0.8" stroke-dasharray="1.5 1.5"/>
<circle cx="310.7" cy="266.1" r="1.5" fill="#c55a11"/>
<circle cx="317.3" cy="267.9" r="1.5" fill="#c55a11"/>
<circle cx="324" cy="269.8" r="1.5" fill="#c55a11"/>
<circle cx="330.6" cy="271.8" r="1.5" fill="#c55a11"/>
<circle cx="337.3" cy="273.9" r="1.5" fill="#c55a11"/>
<circle cx="343.9" cy="276.1" r="1.5" fill="#c55a11"/>
<circle cx="350.6" cy="278.4" r="1.5" fill="#c55a11"/>
<circle cx="357.2" cy="280.9" r="1.5" fill="#c55a11"/>
<circle cx="363.9" cy="283.5" r="1.5" fill="#c55a11"/>
<circle cx="370.5" cy="286.1" r="1.5" fill="#c55a11"/>
<circle cx="377.1" cy="288.9" r="1.5" fill="#c55a11"/>
<circle cx="383.8" cy="291.8" r="1.5" fill="#c55a11"/>
<circle cx="390.4" cy="294.8" r="1.5" fill="#c55a11"/>
<circle cx="397.1" cy="297.9" r="1.5" fill="#c55a11"/>
<circle cx="403.7" cy="301.2" r="1.5" fill="#c55a11"/>
<circle cx="410.4" cy="304.5" r="1.5" fill="#c55a11"/>
<circle cx="417" cy="308" r="1.5" fill="#c55a11"/>
<circle cx="423.7" cy="311.6" r="1.5" fill="#c55a11"/>
<circle cx="430.3" cy="315.2" r="1.5" fill="#c55a11"/>
<circle cx="437" cy="319" r="1.5" fill="#c55a11"/>
<circle cx="443.6" cy="322.9" r="1.5" fill="#c55a11"/>
<path d="M310.7 265.8L317.3 267.4L324 269.1L330.6 270.9L337.3 272.8L343.9 274.8L350.6 277L357.2 279.2L363.9 281.6L370.5 284.1L377.1 286.7L383.8 289.5L390.4 292.3L397.1 295.2L403.7 298.3L410.4 301.5L417 304.8L423.7 308.2L430.3 311.7L437 315.3L443.6 319.1" stroke="#f4b183" stroke-width="0.85" fill="none" opacity="0.8" stroke-dasharray="1.5 1.5"/>
<rect x="309.1" y="264.1" width="3.2" height="3.2" fill="#ed7d31"/>
<rect x="315.7" y="265.7" width="3.2" height="3.2" fill="#ed7d31"/>
<rect x="322.4" y="267.4" width="3.2" height="3.2" fill="#ed7d31"/>
<rect x="329" y="269.2" width="3.2" height="3.2" fill="#ed7d31"/>
<rect x="335.7" y="271.2" width="3.2" height="3.2" fill="#ed7d31"/>
<rect x="342.3" y="273.2" width="3.2" height="3.2" fill="#ed7d31"/>
<rect x="348.9" y="275.4" width="3.2" height="3.2" fill="#ed7d31"/>
<rect x="355.6" y="277.6" width="3.2" height="3.2" fill="#ed7d31"/>
<rect x="362.2" y="280" width="3.2" height="3.2" fill="#ed7d31"/>
<rect x="368.9" y="282.5" width="3.2" height="3.2" fill="#ed7d31"/>
<rect x="375.5" y="285.1" width="3.2" height="3.2" fill="#ed7d31"/>
<rect x="382.2" y="287.8" width="3.2" height="3.2" fill="#ed7d31"/>
<rect x="388.8" y="290.7" width="3.2" height="3.2" fill="#ed7d31"/>
<rect x="395.5" y="293.6" width="3.2" height="3.2" fill="#ed7d31"/>
<rect x="402.1" y="296.7" width="3.2" height="3.2" fill="#ed7d31"/>
<rect x="408.8" y="299.9" width="3.2" height="3.2" fill="#ed7d31"/>
<rect x="415.4" y="303.1" width="3.2" height="3.2" fill="#ed7d31"/>
<rect x="422" y="306.5" width="3.2" height="3.2" fill="#ed7d31"/>
<rect x="428.7" y="310.1" width="3.2" height="3.2" fill="#ed7d31"/>
<rect x="435.3" y="313.7" width="3.2" height="3.2" fill="#ed7d31"/>
<rect x="442" y="317.4" width="3.2" height="3.2" fill="#ed7d31"/>
<path d="M310.7 265.4L317.3 266.8L324 268.3L330.6 270L337.3 271.7L343.9 273.5L350.6 275.5L357.2 277.6L363.9 279.8L370.5 282.1L377.1 284.6L383.8 287.1L390.4 289.8L397.1 292.5L403.7 295.4L410.4 298.4L417 301.6L423.7 304.8L430.3 308.1L437 311.6L443.6 315.2" stroke="#d5b04a" stroke-width="0.85" fill="none" opacity="0.8"/>
<circle cx="310.7" cy="265.4" r="1.5" fill="#bf8f00"/>
<circle cx="317.3" cy="266.8" r="1.5" fill="#bf8f00"/>
<circle cx="324" cy="268.3" r="1.5" fill="#bf8f00"/>
<circle cx="330.6" cy="270" r="1.5" fill="#bf8f00"/>
<circle cx="337.3" cy="271.7" r="1.5" fill="#bf8f00"/>
<circle cx="343.9" cy="273.5" r="1.5" fill="#bf8f00"/>
<circle cx="350.6" cy="275.5" r="1.5" fill="#bf8f00"/>
<circle cx="357.2" cy="277.6" r="1.5" fill="#bf8f00"/>
<circle cx="363.9" cy="279.8" r="1.5" fill="#bf8f00"/>
<circle cx="370.5" cy="282.1" r="1.5" fill="#bf8f00"/>
<circle cx="377.1" cy="284.6" r="1.5" fill="#bf8f00"/>
<circle cx="383.8" cy="287.1" r="1.5" fill="#bf8f00"/>
<circle cx="390.4" cy="289.8" r="1.5" fill="#bf8f00"/>
<circle cx="397.1" cy="292.5" r="1.5" fill="#bf8f00"/>
<circle cx="403.7" cy="295.4" r="1.5" fill="#bf8f00"/>
<circle cx="410.4" cy="298.4" r="1.5" fill="#bf8f00"/>
<circle cx="417" cy="301.6" r="1.5" fill="#bf8f00"/>
<circle cx="423.7" cy="304.8" r="1.5" fill="#bf8f00"/>
<circle cx="430.3" cy="308.1" r="1.5" fill="#bf8f00"/>
<circle cx="437" cy="311.6" r="1.5" fill="#bf8f00"/>
<circle cx="443.6" cy="315.2" r="1.5" fill="#bf8f00"/>
<path d="M310.7 265.1L317.3 266.3L324 267.6L330.6 269L337.3 270.6L343.9 272.3L350.6 274.1L357.2 276L363.9 278L370.5 280.1L377.1 282.4L383.8 284.7L390.4 287.2L397.1 289.8L403.7 292.6L410.4 295.4L417 298.3L423.7 301.4L430.3 304.6L437 307.9L443.6 311.3" stroke="#6f8fc8" stroke-width="0.85" fill="none" opacity="0.8" stroke-dasharray="1.5 1.5"/>
<path d="M310.7 263L312.8 266.5L308.6 266.5Z" fill="#2f5597"/>
<path d="M317.3 264.2L319.4 267.7L315.3 267.7Z" fill="#2f5597"/>
<path d="M324 265.5L326.1 269L321.9 269Z" fill="#2f5597"/>
<path d="M330.6 267L332.7 270.4L328.6 270.4Z" fill="#2f5597"/>
<path d="M337.3 268.5L339.4 272L335.2 272Z" fill="#2f5597"/>
<path d="M343.9 270.2L346 273.7L341.9 273.7Z" fill="#2f5597"/>
<path d="M350.6 272L352.6 275.4L348.5 275.4Z" fill="#2f5597"/>
<path d="M357.2 273.9L359.3 277.3L355.1 277.3Z" fill="#2f5597"/>
<path d="M363.9 275.9L365.9 279.4L361.8 279.4Z" fill="#2f5597"/>
<path d="M370.5 278L372.6 281.5L368.4 281.5Z" fill="#2f5597"/>
<path d="M377.1 280.3L379.2 283.8L375.1 283.8Z" fill="#2f5597"/>
<path d="M383.8 282.7L385.9 286.1L381.7 286.1Z" fill="#2f5597"/>
<path d="M390.4 285.1L392.5 288.6L388.4 288.6Z" fill="#2f5597"/>
<path d="M397.1 287.7L399.2 291.2L395 291.2Z" fill="#2f5597"/>
<path d="M403.7 290.5L405.8 293.9L401.7 293.9Z" fill="#2f5597"/>
<path d="M410.4 293.3L412.4 296.8L408.3 296.8Z" fill="#2f5597"/>
<path d="M417 296.3L419.1 299.7L414.9 299.7Z" fill="#2f5597"/>
<path d="M423.7 299.3L425.7 302.8L421.6 302.8Z" fill="#2f5597"/>
<path d="M430.3 302.5L432.4 306L428.2 306Z" fill="#2f5597"/>
<path d="M437 305.8L439 309.3L434.9 309.3Z" fill="#2f5597"/>
<path d="M443.6 309.3L445.7 312.7L441.5 312.7Z" fill="#2f5597"/>
<path d="M310.7 264.7L317.3 265.8L324 266.9L330.6 268.1L337.3 269.5L343.9 271L350.6 272.6L357.2 274.3L363.9 276.1L370.5 278.1L377.1 280.2L383.8 282.4L390.4 284.7L397.1 287.1L403.7 289.7L410.4 292.3L417 295.1L423.7 298L430.3 301.1L437 304.2L443.6 307.5" stroke="#92d050" stroke-width="0.85" fill="none" opacity="0.8"/>
<circle cx="310.7" cy="264.7" r="1.5" fill="#00b050"/>
<circle cx="317.3" cy="265.8" r="1.5" fill="#00b050"/>
<circle cx="324" cy="266.9" r="1.5" fill="#00b050"/>
<circle cx="330.6" cy="268.1" r="1.5" fill="#00b050"/>
<circle cx="337.3" cy="269.5" r="1.5" fill="#00b050"/>
<circle cx="343.9" cy="271" r="1.5" fill="#00b050"/>
<circle cx="350.6" cy="272.6" r="1.5" fill="#00b050"/>
<circle cx="357.2" cy="274.3" r="1.5" fill="#00b050"/>
<circle cx="363.9" cy="276.1" r="1.5" fill="#00b050"/>
<circle cx="370.5" cy="278.1" r="1.5" fill="#00b050"/>
<circle cx="377.1" cy="280.2" r="1.5" fill="#00b050"/>
<circle cx="383.8" cy="282.4" r="1.5" fill="#00b050"/>
<circle cx="390.4" cy="284.7" r="1.5" fill="#00b050"/>
<circle cx="397.1" cy="287.1" r="1.5" fill="#00b050"/>
<circle cx="403.7" cy="289.7" r="1.5" fill="#00b050"/>
<circle cx="410.4" cy="292.3" r="1.5" fill="#00b050"/>
<circle cx="417" cy="295.1" r="1.5" fill="#00b050"/>
<circle cx="423.7" cy="298" r="1.5" fill="#00b050"/>
<circle cx="430.3" cy="301.1" r="1.5" fill="#00b050"/>
<circle cx="437" cy="304.2" r="1.5" fill="#00b050"/>
<circle cx="443.6" cy="307.5" r="1.5" fill="#00b050"/>
<path d="M310.7 264.4L317.3 265.2L324 266.2L330.6 267.2L337.3 268.4L343.9 269.7L350.6 271.1L357.2 272.7L363.9 274.3L370.5 276.1L377.1 278L383.8 280L390.4 282.2L397.1 284.4L403.7 286.8L410.4 289.3L417 291.9L423.7 294.7L430.3 297.5L437 300.5L443.6 303.6" stroke="#8fb4e3" stroke-width="0.85" fill="none" opacity="0.8"/>
<path d="M310.7 262.3L312.8 265.8L308.6 265.8Z" fill="#4a86d8"/>
<path d="M317.3 263.1L319.4 266.6L315.3 266.6Z" fill="#4a86d8"/>
<path d="M324 264.1L326.1 267.5L321.9 267.5Z" fill="#4a86d8"/>
<path d="M330.6 265.1L332.7 268.6L328.6 268.6Z" fill="#4a86d8"/>
<path d="M337.3 266.3L339.4 269.8L335.2 269.8Z" fill="#4a86d8"/>
<path d="M343.9 267.6L346 271.1L341.9 271.1Z" fill="#4a86d8"/>
<path d="M350.6 269L352.6 272.5L348.5 272.5Z" fill="#4a86d8"/>
<path d="M357.2 270.6L359.3 274L355.1 274Z" fill="#4a86d8"/>
<path d="M363.9 272.2L365.9 275.7L361.8 275.7Z" fill="#4a86d8"/>
<path d="M370.5 274L372.6 277.5L368.4 277.5Z" fill="#4a86d8"/>
<path d="M377.1 275.9L379.2 279.4L375.1 279.4Z" fill="#4a86d8"/>
<path d="M383.8 277.9L385.9 281.4L381.7 281.4Z" fill="#4a86d8"/>
<path d="M390.4 280.1L392.5 283.5L388.4 283.5Z" fill="#4a86d8"/>
<path d="M397.1 282.3L399.2 285.8L395 285.8Z" fill="#4a86d8"/>
<path d="M403.7 284.7L405.8 288.2L401.7 288.2Z" fill="#4a86d8"/>
<path d="M410.4 287.2L412.4 290.7L408.3 290.7Z" fill="#4a86d8"/>
<path d="M417 289.8L419.1 293.3L414.9 293.3Z" fill="#4a86d8"/>
<path d="M423.7 292.6L425.7 296L421.6 296Z" fill="#4a86d8"/>
<path d="M430.3 295.4L432.4 298.9L428.2 298.9Z" fill="#4a86d8"/>
<path d="M437 298.4L439 301.9L434.9 301.9Z" fill="#4a86d8"/>
<path d="M443.6 301.5L445.7 305L441.5 305Z" fill="#4a86d8"/>
</g>
<path d="M55 374.6H172.3M55 403.4H172.3M55 432.2H172.3M55 460.9H172.3M55 489.7H172.3M55 518.5H172.3M84.3 374.6V518.5M113.7 374.6V518.5M143 374.6V518.5M172.3 374.6V518.5" stroke="#f6f6f6" stroke-width="1" fill="none"/>
<path d="M55 374.6V518.5" stroke="#b2b2b2" stroke-width="1.3" fill="none"/>
<path d="M55 475.3H172.3" stroke="#b2b2b2" stroke-width="1.3" fill="none"/>
<g clip-path="url(#clipe)">
<path d="M55 402L60.9 402.9L66.7 403.9L72.6 405.1L78.5 406.4L84.3 407.8L90.2 409.4L96.1 411.1L101.9 412.9L107.8 414.9L113.7 417L119.5 419.2L125.4 421.6L131.2 424.1L137.1 426.8L143 429.5L148.8 432.4L154.7 435.5L160.6 438.6L166.4 442L172.3 445.4" stroke="#7fa6dc" stroke-width="0.85" fill="none" opacity="0.8"/>
<circle cx="55" cy="402" r="1.3" fill="#2f6fd0"/>
<circle cx="60.9" cy="402.9" r="1.3" fill="#2f6fd0"/>
<circle cx="66.7" cy="403.9" r="1.3" fill="#2f6fd0"/>
<circle cx="72.6" cy="405.1" r="1.3" fill="#2f6fd0"/>
<circle cx="78.5" cy="406.4" r="1.3" fill="#2f6fd0"/>
<circle cx="84.3" cy="407.8" r="1.3" fill="#2f6fd0"/>
<circle cx="90.2" cy="409.4" r="1.3" fill="#2f6fd0"/>
<circle cx="96.1" cy="411.1" r="1.3" fill="#2f6fd0"/>
<circle cx="101.9" cy="412.9" r="1.3" fill="#2f6fd0"/>
<circle cx="107.8" cy="414.9" r="1.3" fill="#2f6fd0"/>
<circle cx="113.7" cy="417" r="1.3" fill="#2f6fd0"/>
<circle cx="119.5" cy="419.2" r="1.3" fill="#2f6fd0"/>
<circle cx="125.4" cy="421.6" r="1.3" fill="#2f6fd0"/>
<circle cx="131.2" cy="424.1" r="1.3" fill="#2f6fd0"/>
<circle cx="137.1" cy="426.8" r="1.3" fill="#2f6fd0"/>
<circle cx="143" cy="429.5" r="1.3" fill="#2f6fd0"/>
<circle cx="148.8" cy="432.4" r="1.3" fill="#2f6fd0"/>
<circle cx="154.7" cy="435.5" r="1.3" fill="#2f6fd0"/>
<circle cx="160.6" cy="438.6" r="1.3" fill="#2f6fd0"/>
<circle cx="166.4" cy="442" r="1.3" fill="#2f6fd0"/>
<circle cx="172.3" cy="445.4" r="1.3" fill="#2f6fd0"/>
<path d="M55 411.2L60.9 412.4L66.7 413.7L72.6 415.2L78.5 416.8L84.3 418.4L90.2 420.3L96.1 422.2L101.9 424.3L107.8 426.5L113.7 428.8L119.5 431.3L125.4 433.8L131.2 436.5L137.1 439.4L143 442.3L148.8 445.4L154.7 448.6L160.6 451.9L166.4 455.4L172.3 459" stroke="#f4b183" stroke-width="0.85" fill="none" opacity="0.8"/>
<circle cx="55" cy="411.2" r="1.3" fill="#ed7d31"/>
<circle cx="60.9" cy="412.4" r="1.3" fill="#ed7d31"/>
<circle cx="66.7" cy="413.7" r="1.3" fill="#ed7d31"/>
<circle cx="72.6" cy="415.2" r="1.3" fill="#ed7d31"/>
<circle cx="78.5" cy="416.8" r="1.3" fill="#ed7d31"/>
<circle cx="84.3" cy="418.4" r="1.3" fill="#ed7d31"/>
<circle cx="90.2" cy="420.3" r="1.3" fill="#ed7d31"/>
<circle cx="96.1" cy="422.2" r="1.3" fill="#ed7d31"/>
<circle cx="101.9" cy="424.3" r="1.3" fill="#ed7d31"/>
<circle cx="107.8" cy="426.5" r="1.3" fill="#ed7d31"/>
<circle cx="113.7" cy="428.8" r="1.3" fill="#ed7d31"/>
<circle cx="119.5" cy="431.3" r="1.3" fill="#ed7d31"/>
<circle cx="125.4" cy="433.8" r="1.3" fill="#ed7d31"/>
<circle cx="131.2" cy="436.5" r="1.3" fill="#ed7d31"/>
<circle cx="137.1" cy="439.4" r="1.3" fill="#ed7d31"/>
<circle cx="143" cy="442.3" r="1.3" fill="#ed7d31"/>
<circle cx="148.8" cy="445.4" r="1.3" fill="#ed7d31"/>
<circle cx="154.7" cy="448.6" r="1.3" fill="#ed7d31"/>
<circle cx="160.6" cy="451.9" r="1.3" fill="#ed7d31"/>
<circle cx="166.4" cy="455.4" r="1.3" fill="#ed7d31"/>
<circle cx="172.3" cy="459" r="1.3" fill="#ed7d31"/>
<path d="M55 420.5L60.9 422L66.7 423.6L72.6 425.3L78.5 427.1L84.3 429.1L90.2 431.1L96.1 433.3L101.9 435.6L107.8 438.1L113.7 440.6L119.5 443.3L125.4 446L131.2 449L137.1 452L143 455.1L148.8 458.4L154.7 461.8L160.6 465.2L166.4 468.9L172.3 472.6" stroke="#cfcfcf" stroke-width="0.85" fill="none" opacity="0.8"/>
<circle cx="55" cy="420.5" r="1.3" fill="#a5a5a5"/>
<circle cx="60.9" cy="422" r="1.3" fill="#a5a5a5"/>
<circle cx="66.7" cy="423.6" r="1.3" fill="#a5a5a5"/>
<circle cx="72.6" cy="425.3" r="1.3" fill="#a5a5a5"/>
<circle cx="78.5" cy="427.1" r="1.3" fill="#a5a5a5"/>
<circle cx="84.3" cy="429.1" r="1.3" fill="#a5a5a5"/>
<circle cx="90.2" cy="431.1" r="1.3" fill="#a5a5a5"/>
<circle cx="96.1" cy="433.3" r="1.3" fill="#a5a5a5"/>
<circle cx="101.9" cy="435.6" r="1.3" fill="#a5a5a5"/>
<circle cx="107.8" cy="438.1" r="1.3" fill="#a5a5a5"/>
<circle cx="113.7" cy="440.6" r="1.3" fill="#a5a5a5"/>
<circle cx="119.5" cy="443.3" r="1.3" fill="#a5a5a5"/>
<circle cx="125.4" cy="446" r="1.3" fill="#a5a5a5"/>
<circle cx="131.2" cy="449" r="1.3" fill="#a5a5a5"/>
<circle cx="137.1" cy="452" r="1.3" fill="#a5a5a5"/>
<circle cx="143" cy="455.1" r="1.3" fill="#a5a5a5"/>
<circle cx="148.8" cy="458.4" r="1.3" fill="#a5a5a5"/>
<circle cx="154.7" cy="461.8" r="1.3" fill="#a5a5a5"/>
<circle cx="160.6" cy="465.2" r="1.3" fill="#a5a5a5"/>
<circle cx="166.4" cy="468.9" r="1.3" fill="#a5a5a5"/>
<circle cx="172.3" cy="472.6" r="1.3" fill="#a5a5a5"/>
<path d="M55 429.8L60.9 431.5L66.7 433.4L72.6 435.4L78.5 437.5L84.3 439.7L90.2 442L96.1 444.4L101.9 447L107.8 449.6L113.7 452.4L119.5 455.3L125.4 458.3L131.2 461.4L137.1 464.6L143 467.9L148.8 471.3L154.7 474.9L160.6 478.5L166.4 482.3L172.3 486.2" stroke="#f6b183" stroke-width="0.85" fill="none" opacity="0.8"/>
<circle cx="55" cy="429.8" r="1.3" fill="#f08030"/>
<circle cx="60.9" cy="431.5" r="1.3" fill="#f08030"/>
<circle cx="66.7" cy="433.4" r="1.3" fill="#f08030"/>
<circle cx="72.6" cy="435.4" r="1.3" fill="#f08030"/>
<circle cx="78.5" cy="437.5" r="1.3" fill="#f08030"/>
<circle cx="84.3" cy="439.7" r="1.3" fill="#f08030"/>
<circle cx="90.2" cy="442" r="1.3" fill="#f08030"/>
<circle cx="96.1" cy="444.4" r="1.3" fill="#f08030"/>
<circle cx="101.9" cy="447" r="1.3" fill="#f08030"/>
<circle cx="107.8" cy="449.6" r="1.3" fill="#f08030"/>
<circle cx="113.7" cy="452.4" r="1.3" fill="#f08030"/>
<circle cx="119.5" cy="455.3" r="1.3" fill="#f08030"/>
<circle cx="125.4" cy="458.3" r="1.3" fill="#f08030"/>
<circle cx="131.2" cy="461.4" r="1.3" fill="#f08030"/>
<circle cx="137.1" cy="464.6" r="1.3" fill="#f08030"/>
<circle cx="143" cy="467.9" r="1.3" fill="#f08030"/>
<circle cx="148.8" cy="471.3" r="1.3" fill="#f08030"/>
<circle cx="154.7" cy="474.9" r="1.3" fill="#f08030"/>
<circle cx="160.6" cy="478.5" r="1.3" fill="#f08030"/>
<circle cx="166.4" cy="482.3" r="1.3" fill="#f08030"/>
<circle cx="172.3" cy="486.2" r="1.3" fill="#f08030"/>
<path d="M55 439L60.9 441.1L66.7 443.2L72.6 445.5L78.5 447.8L84.3 450.3L90.2 452.9L96.1 455.5L101.9 458.3L107.8 461.2L113.7 464.2L119.5 467.3L125.4 470.5L131.2 473.8L137.1 477.2L143 480.7L148.8 484.3L154.7 488L160.6 491.8L166.4 495.8L172.3 499.8" stroke="#ff6060" stroke-width="0.85" fill="none" opacity="0.8"/>
<circle cx="55" cy="439" r="1.3" fill="#ff0000"/>
<circle cx="60.9" cy="441.1" r="1.3" fill="#ff0000"/>
<circle cx="66.7" cy="443.2" r="1.3" fill="#ff0000"/>
<circle cx="72.6" cy="445.5" r="1.3" fill="#ff0000"/>
<circle cx="78.5" cy="447.8" r="1.3" fill="#ff0000"/>
<circle cx="84.3" cy="450.3" r="1.3" fill="#ff0000"/>
<circle cx="90.2" cy="452.9" r="1.3" fill="#ff0000"/>
<circle cx="96.1" cy="455.5" r="1.3" fill="#ff0000"/>
<circle cx="101.9" cy="458.3" r="1.3" fill="#ff0000"/>
<circle cx="107.8" cy="461.2" r="1.3" fill="#ff0000"/>
<circle cx="113.7" cy="464.2" r="1.3" fill="#ff0000"/>
<circle cx="119.5" cy="467.3" r="1.3" fill="#ff0000"/>
<circle cx="125.4" cy="470.5" r="1.3" fill="#ff0000"/>
<circle cx="131.2" cy="473.8" r="1.3" fill="#ff0000"/>
<circle cx="137.1" cy="477.2" r="1.3" fill="#ff0000"/>
<circle cx="143" cy="480.7" r="1.3" fill="#ff0000"/>
<circle cx="148.8" cy="484.3" r="1.3" fill="#ff0000"/>
<circle cx="154.7" cy="488" r="1.3" fill="#ff0000"/>
<circle cx="160.6" cy="491.8" r="1.3" fill="#ff0000"/>
<circle cx="166.4" cy="495.8" r="1.3" fill="#ff0000"/>
<circle cx="172.3" cy="499.8" r="1.3" fill="#ff0000"/>
<path d="M55 448.2L60.9 450.6L66.7 453L72.6 455.6L78.5 458.2L84.3 460.9L90.2 463.7L96.1 466.7L101.9 469.7L107.8 472.8L113.7 476L119.5 479.3L125.4 482.7L131.2 486.2L137.1 489.8L143 493.5L148.8 497.3L154.7 501.2L160.6 505.1L166.4 509.2L172.3 513.4" stroke="#80cc80" stroke-width="0.85" fill="none" opacity="0.8"/>
<circle cx="55" cy="448.2" r="1.3" fill="#22a52a"/>
<circle cx="60.9" cy="450.6" r="1.3" fill="#22a52a"/>
<circle cx="66.7" cy="453" r="1.3" fill="#22a52a"/>
<circle cx="72.6" cy="455.6" r="1.3" fill="#22a52a"/>
<circle cx="78.5" cy="458.2" r="1.3" fill="#22a52a"/>
<circle cx="84.3" cy="460.9" r="1.3" fill="#22a52a"/>
<circle cx="90.2" cy="463.7" r="1.3" fill="#22a52a"/>
<circle cx="96.1" cy="466.7" r="1.3" fill="#22a52a"/>
<circle cx="101.9" cy="469.7" r="1.3" fill="#22a52a"/>
<circle cx="107.8" cy="472.8" r="1.3" fill="#22a52a"/>
<circle cx="113.7" cy="476" r="1.3" fill="#22a52a"/>
<circle cx="119.5" cy="479.3" r="1.3" fill="#22a52a"/>
<circle cx="125.4" cy="482.7" r="1.3" fill="#22a52a"/>
<circle cx="131.2" cy="486.2" r="1.3" fill="#22a52a"/>
<circle cx="137.1" cy="489.8" r="1.3" fill="#22a52a"/>
<circle cx="143" cy="493.5" r="1.3" fill="#22a52a"/>
<circle cx="148.8" cy="497.3" r="1.3" fill="#22a52a"/>
<circle cx="154.7" cy="501.2" r="1.3" fill="#22a52a"/>
<circle cx="160.6" cy="505.1" r="1.3" fill="#22a52a"/>
<circle cx="166.4" cy="509.2" r="1.3" fill="#22a52a"/>
<circle cx="172.3" cy="513.4" r="1.3" fill="#22a52a"/>
<path d="M55 457.5L60.9 460.1L66.7 462.8L72.6 465.7L78.5 468.6L84.3 471.5L90.2 474.6L96.1 477.8L101.9 481L107.8 484.4L113.7 487.8L119.5 491.3L125.4 494.9L131.2 498.6L137.1 502.4L143 506.3L148.8 510.3L154.7 514.3L160.6 518.4L166.4 522.7L172.3 527" stroke="#7f90c0" stroke-width="0.85" fill="none" opacity="0.8"/>
<circle cx="55" cy="457.5" r="1.3" fill="#1f3f8a"/>
<circle cx="60.9" cy="460.1" r="1.3" fill="#1f3f8a"/>
<circle cx="66.7" cy="462.8" r="1.3" fill="#1f3f8a"/>
<circle cx="72.6" cy="465.7" r="1.3" fill="#1f3f8a"/>
<circle cx="78.5" cy="468.6" r="1.3" fill="#1f3f8a"/>
<circle cx="84.3" cy="471.5" r="1.3" fill="#1f3f8a"/>
<circle cx="90.2" cy="474.6" r="1.3" fill="#1f3f8a"/>
<circle cx="96.1" cy="477.8" r="1.3" fill="#1f3f8a"/>
<circle cx="101.9" cy="481" r="1.3" fill="#1f3f8a"/>
<circle cx="107.8" cy="484.4" r="1.3" fill="#1f3f8a"/>
<circle cx="113.7" cy="487.8" r="1.3" fill="#1f3f8a"/>
<circle cx="119.5" cy="491.3" r="1.3" fill="#1f3f8a"/>
<circle cx="125.4" cy="494.9" r="1.3" fill="#1f3f8a"/>
<circle cx="131.2" cy="498.6" r="1.3" fill="#1f3f8a"/>
<circle cx="137.1" cy="502.4" r="1.3" fill="#1f3f8a"/>
<circle cx="143" cy="506.3" r="1.3" fill="#1f3f8a"/>
<circle cx="148.8" cy="510.3" r="1.3" fill="#1f3f8a"/>
<circle cx="154.7" cy="514.3" r="1.3" fill="#1f3f8a"/>
<circle cx="160.6" cy="518.4" r="1.3" fill="#1f3f8a"/>
<circle cx="166.4" cy="522.7" r="1.3" fill="#1f3f8a"/>
<circle cx="172.3" cy="527" r="1.3" fill="#1f3f8a"/>
<path d="M55 466.8L60.9 469.7L66.7 472.7L72.6 475.7L78.5 478.9L84.3 482.2L90.2 485.5L96.1 488.9L101.9 492.4L107.8 495.9L113.7 499.6L119.5 503.3L125.4 507.1L131.2 511L137.1 515L143 519.1L148.8 523.2L154.7 527.4L160.6 531.7L166.4 536.1L172.3 540.6" stroke="#cf8a60" stroke-width="0.85" fill="none" opacity="0.8"/>
<circle cx="55" cy="466.8" r="1.3" fill="#a0400a"/>
<circle cx="60.9" cy="469.7" r="1.3" fill="#a0400a"/>
<circle cx="66.7" cy="472.7" r="1.3" fill="#a0400a"/>
<circle cx="72.6" cy="475.7" r="1.3" fill="#a0400a"/>
<circle cx="78.5" cy="478.9" r="1.3" fill="#a0400a"/>
<circle cx="84.3" cy="482.2" r="1.3" fill="#a0400a"/>
<circle cx="90.2" cy="485.5" r="1.3" fill="#a0400a"/>
<circle cx="96.1" cy="488.9" r="1.3" fill="#a0400a"/>
<circle cx="101.9" cy="492.4" r="1.3" fill="#a0400a"/>
<circle cx="107.8" cy="495.9" r="1.3" fill="#a0400a"/>
<circle cx="113.7" cy="499.6" r="1.3" fill="#a0400a"/>
<circle cx="119.5" cy="503.3" r="1.3" fill="#a0400a"/>
<circle cx="125.4" cy="507.1" r="1.3" fill="#a0400a"/>
<circle cx="131.2" cy="511" r="1.3" fill="#a0400a"/>
<circle cx="137.1" cy="515" r="1.3" fill="#a0400a"/>
<circle cx="143" cy="519.1" r="1.3" fill="#a0400a"/>
<circle cx="148.8" cy="523.2" r="1.3" fill="#a0400a"/>
<circle cx="154.7" cy="527.4" r="1.3" fill="#a0400a"/>
<circle cx="160.6" cy="531.7" r="1.3" fill="#a0400a"/>
<circle cx="166.4" cy="536.1" r="1.3" fill="#a0400a"/>
<circle cx="172.3" cy="540.6" r="1.3" fill="#a0400a"/>
<path d="M55 476L60.9 479.2L66.7 482.5L72.6 485.8L78.5 489.3L84.3 492.8L90.2 496.4L96.1 500L101.9 503.7L107.8 507.5L113.7 511.4L119.5 515.3L125.4 519.4L131.2 523.5L137.1 527.6L143 531.9L148.8 536.2L154.7 540.6L160.6 545L166.4 549.6L172.3 554.2" stroke="#999999" stroke-width="0.85" fill="none" opacity="0.8"/>
<circle cx="55" cy="476" r="1.3" fill="#555555"/>
<circle cx="60.9" cy="479.2" r="1.3" fill="#555555"/>
<circle cx="66.7" cy="482.5" r="1.3" fill="#555555"/>
<circle cx="72.6" cy="485.8" r="1.3" fill="#555555"/>
<circle cx="78.5" cy="489.3" r="1.3" fill="#555555"/>
<circle cx="84.3" cy="492.8" r="1.3" fill="#555555"/>
<circle cx="90.2" cy="496.4" r="1.3" fill="#555555"/>
<circle cx="96.1" cy="500" r="1.3" fill="#555555"/>
<circle cx="101.9" cy="503.7" r="1.3" fill="#555555"/>
<circle cx="107.8" cy="507.5" r="1.3" fill="#555555"/>
<circle cx="113.7" cy="511.4" r="1.3" fill="#555555"/>
<circle cx="119.5" cy="515.3" r="1.3" fill="#555555"/>
<circle cx="125.4" cy="519.4" r="1.3" fill="#555555"/>
<circle cx="131.2" cy="523.5" r="1.3" fill="#555555"/>
<circle cx="137.1" cy="527.6" r="1.3" fill="#555555"/>
<circle cx="143" cy="531.9" r="1.3" fill="#555555"/>
<circle cx="148.8" cy="536.2" r="1.3" fill="#555555"/>
<circle cx="154.7" cy="540.6" r="1.3" fill="#555555"/>
<circle cx="160.6" cy="545" r="1.3" fill="#555555"/>
<circle cx="166.4" cy="549.6" r="1.3" fill="#555555"/>
<circle cx="172.3" cy="554.2" r="1.3" fill="#555555"/>
</g>
<text class="t" x="44.8" y="13.2" font-size="10.4" text-anchor="end" stroke="#222" stroke-width="0.08">0.14</text>
<text class="t" x="44.8" y="42.2" font-size="10.4" text-anchor="end" stroke="#222" stroke-width="0.08">0.1</text>
<text class="t" x="44.8" y="71.2" font-size="10.4" text-anchor="end" stroke="#222" stroke-width="0.08">0.06</text>
<text class="t" x="44.8" y="100.2" font-size="10.4" text-anchor="end" stroke="#222" stroke-width="0.08">0.02</text>
<text class="t" x="44.8" y="129.2" font-size="10.4" text-anchor="end" stroke="#222" stroke-width="0.08">0.02</text>
<text class="t" x="44.8" y="158.2" font-size="10.4" text-anchor="end" stroke="#222" stroke-width="0.08">0.06</text>
<text class="t" x="53.8" y="127.6" font-size="10.4" text-anchor="middle" stroke="#222" stroke-width="0.08">-10</text>
<text class="t" x="85.8" y="127.6" font-size="10.4" text-anchor="middle" stroke="#222" stroke-width="0.08">-5</text>
<text class="t" x="117.9" y="127.6" font-size="10.4" text-anchor="middle" stroke="#222" stroke-width="0.08">0</text>
<text class="t" x="149.9" y="127.6" font-size="10.4" text-anchor="middle" stroke="#222" stroke-width="0.08">5</text>
<text class="t" x="182" y="127.6" font-size="10.4" text-anchor="middle" stroke="#222" stroke-width="0.08">10</text>
<text class="t" x="301.5" y="15.1" font-size="10.4" text-anchor="end" stroke="#222" stroke-width="0.08">0.14</text>
<text class="t" x="301.5" y="42.9" font-size="10.4" text-anchor="end" stroke="#222" stroke-width="0.08">0.1</text>
<text class="t" x="301.5" y="70.8" font-size="10.4" text-anchor="end" stroke="#222" stroke-width="0.08">0.06</text>
<text class="t" x="301.5" y="98.6" font-size="10.4" text-anchor="end" stroke="#222" stroke-width="0.08">0.02</text>
<text class="t" x="301.5" y="126.5" font-size="10.4" text-anchor="end" stroke="#222" stroke-width="0.08">-0.02</text>
<text class="t" x="301.5" y="154.3" font-size="10.4" text-anchor="end" stroke="#222" stroke-width="0.08">-0.06</text>
<text class="t" x="310.3" y="125.3" font-size="10.4" text-anchor="middle" stroke="#222" stroke-width="0.08">-10</text>
<text class="t" x="340.8" y="125.3" font-size="10.4" text-anchor="middle" stroke="#222" stroke-width="0.08">-5</text>
<text class="t" x="371.2" y="125.3" font-size="10.4" text-anchor="middle" stroke="#222" stroke-width="0.08">0</text>
<text class="t" x="401.7" y="125.3" font-size="10.4" text-anchor="middle" stroke="#222" stroke-width="0.08">5</text>
<text class="t" x="432.2" y="125.3" font-size="10.4" text-anchor="middle" stroke="#222" stroke-width="0.08">10</text>
<text class="t" x="45.5" y="190.3" font-size="10.4" text-anchor="end" stroke="#222" stroke-width="0.08">0.14</text>
<text class="t" x="45.5" y="220" font-size="10.4" text-anchor="end" stroke="#222" stroke-width="0.08">0.1</text>
<text class="t" x="45.5" y="249.7" font-size="10.4" text-anchor="end" stroke="#222" stroke-width="0.08">0.06</text>
<text class="t" x="45.5" y="279.4" font-size="10.4" text-anchor="end" stroke="#222" stroke-width="0.08">0.02</text>
<text class="t" x="45.5" y="309.1" font-size="10.4" text-anchor="end" stroke="#222" stroke-width="0.08">-0.02</text>
<text class="t" x="45.5" y="338.8" font-size="10.4" text-anchor="end" stroke="#222" stroke-width="0.08">-0.06</text>
<text class="t" x="55" y="307.1" font-size="10.4" text-anchor="middle" stroke="#222" stroke-width="0.08">-10</text>
<text class="t" x="86.8" y="307.1" font-size="10.4" text-anchor="middle" stroke="#222" stroke-width="0.08">-5</text>
<text class="t" x="118.6" y="307.1" font-size="10.4" text-anchor="middle" stroke="#222" stroke-width="0.08">0</text>
<text class="t" x="150.4" y="307.1" font-size="10.4" text-anchor="middle" stroke="#222" stroke-width="0.08">5</text>
<text class="t" x="182.2" y="307.1" font-size="10.4" text-anchor="middle" stroke="#222" stroke-width="0.08">10</text>
<text class="t" x="302.4" y="200.4" font-size="10.4" text-anchor="end" stroke="#222" stroke-width="0.08">0.14</text>
<text class="t" x="302.4" y="230.4" font-size="10.4" text-anchor="end" stroke="#222" stroke-width="0.08">0.1</text>
<text class="t" x="302.4" y="260.5" font-size="10.4" text-anchor="end" stroke="#222" stroke-width="0.08">0.06</text>
<text class="t" x="302.4" y="290.5" font-size="10.4" text-anchor="end" stroke="#222" stroke-width="0.08">0.02</text>
<text class="t" x="302.4" y="320.6" font-size="10.4" text-anchor="end" stroke="#222" stroke-width="0.08">-0.02</text>
<text class="t" x="302.4" y="350.6" font-size="10.4" text-anchor="end" stroke="#222" stroke-width="0.08">-0.06</text>
<text class="t" x="310.7" y="317.8" font-size="10.4" text-anchor="middle" stroke="#222" stroke-width="0.08">-10</text>
<text class="t" x="343.9" y="317.8" font-size="10.4" text-anchor="middle" stroke="#222" stroke-width="0.08">-5</text>
<text class="t" x="377.1" y="317.8" font-size="10.4" text-anchor="middle" stroke="#222" stroke-width="0.08">0</text>
<text class="t" x="410.4" y="317.8" font-size="10.4" text-anchor="middle" stroke="#222" stroke-width="0.08">5</text>
<text class="t" x="443.6" y="317.8" font-size="10.4" text-anchor="middle" stroke="#222" stroke-width="0.08">10</text>
<text class="t" x="46.7" y="377.8" font-size="9.8" text-anchor="end" stroke="#222" stroke-width="0.08">0.14</text>
<text class="t" x="46.7" y="406.6" font-size="9.8" text-anchor="end" stroke="#222" stroke-width="0.08">0.1</text>
<text class="t" x="46.7" y="435.4" font-size="9.8" text-anchor="end" stroke="#222" stroke-width="0.08">0.06</text>
<text class="t" x="46.7" y="464.1" font-size="9.8" text-anchor="end" stroke="#222" stroke-width="0.08">0.02</text>
<text class="t" x="46.7" y="492.9" font-size="9.8" text-anchor="end" stroke="#222" stroke-width="0.08">-0.02</text>
<text class="t" x="46.7" y="521.7" font-size="9.8" text-anchor="end" stroke="#222" stroke-width="0.08">-0.06</text>
<text class="t" x="55" y="490.3" font-size="9.8" text-anchor="middle" stroke="#222" stroke-width="0.08">-10</text>
<text class="t" x="84.3" y="490.3" font-size="9.8" text-anchor="middle" stroke="#222" stroke-width="0.08">-5</text>
<text class="t" x="113.7" y="490.3" font-size="9.8" text-anchor="middle" stroke="#222" stroke-width="0.08">0</text>
<text class="t" x="143" y="490.3" font-size="9.8" text-anchor="middle" stroke="#222" stroke-width="0.08">5</text>
<text class="t" x="172.3" y="490.3" font-size="9.8" text-anchor="middle" stroke="#222" stroke-width="0.08">10</text>
<text class="t" x="190.3" y="22.5" font-size="16.8" text-anchor="start" style="fill:#383838">(a)</text>
<text class="t" x="436.4" y="23.6" font-size="16.8" text-anchor="start" style="fill:#383838">(b)</text>
<text class="t" x="189.3" y="200.7" font-size="16.8" text-anchor="start" style="fill:#383838">(c)</text>
<text class="t" x="447.2" y="209.6" font-size="16.8" text-anchor="start" style="fill:#383838">(d)</text>
<text class="t" x="177.2" y="385.4" font-size="16.8" text-anchor="start" style="fill:#383838">(e)</text>
<text class="t" font-style="italic" font-size="16.3" transform="translate(14.6 81.9) rotate(-90)" text-anchor="middle" stroke="#111" stroke-width="0.5">C<tspan font-size="11" dy="2.6">m</tspan></text>
<text class="t" font-style="italic" font-size="16.3" transform="translate(277.9 80.7) rotate(-90)" text-anchor="middle" stroke="#111" stroke-width="0.5">C<tspan font-size="11" dy="2.6">m</tspan></text>
<text class="t" font-style="italic" font-size="16.3" transform="translate(16.8 261.4) rotate(-90)" text-anchor="middle" stroke="#111" stroke-width="0.5">C<tspan font-size="11" dy="2.6">m</tspan></text>
<text class="t" font-style="italic" font-size="16.3" transform="translate(278.6 268.2) rotate(-90)" text-anchor="middle" stroke="#111" stroke-width="0.5">C<tspan font-size="11" dy="2.6">m</tspan></text>
<text class="t" font-style="italic" font-size="16.3" transform="translate(18.9 448.9) rotate(-90)" text-anchor="middle" stroke="#111" stroke-width="0.5">C<tspan font-size="11" dy="2.6">m</tspan></text>
<text class="t" x="114.6" y="177.4" font-size="11.3" letter-spacing="0.5" stroke="#111" stroke-width="0.1"><tspan font-weight="bold" font-style="italic">&#945;</tspan>(&#176;)</text>
<text class="t" x="367.8" y="180.2" font-size="11.3" letter-spacing="0.5" stroke="#111" stroke-width="0.1"><tspan font-weight="bold" font-style="italic">&#945;</tspan>(&#176;)</text>
<text class="t" x="111.9" y="355.8" font-size="11.3" letter-spacing="0.5" stroke="#111" stroke-width="0.1"><tspan font-weight="bold" font-style="italic">&#945;</tspan>(&#176;)</text>
<text class="t" x="367.8" y="361.9" font-size="11.3" letter-spacing="0.5" stroke="#111" stroke-width="0.1"><tspan font-weight="bold" font-style="italic">&#945;</tspan>(&#176;)</text>
<text class="t" x="105.2" y="543.9" font-size="11.3" letter-spacing="0.5" stroke="#111" stroke-width="0.1"><tspan font-weight="bold" font-style="italic">&#945;</tspan>(&#176;)</text>
<path d="M72.7 118.4L123.6 67.7" stroke="#111" stroke-width="1.5" fill="none"/>
<path d="M127.8 63.6L125.3 70.8L120.5 66Z" fill="#000"/>
<path d="M326.9 121.4L378.4 70.4" stroke="#111" stroke-width="1.5" fill="none"/>
<path d="M382.5 66.3L380.1 73.5L375.3 68.7Z" fill="#000"/>
<path d="M72.6 314.3L136.9 238.5" stroke="#111" stroke-width="1.5" fill="none"/>
<path d="M140.7 234.1L138.9 241.5L133.7 237.1Z" fill="#000"/>
<path d="M330.2 314.7L380.9 264.1" stroke="#111" stroke-width="1.5" fill="none"/>
<path d="M385 260L382.6 267.2L377.8 262.4Z" fill="#000"/>
<path d="M135.8 408.3L67.5 506.7" stroke="#111" stroke-width="1.5" fill="none"/>
<path d="M64.2 511.5L65.3 504L70.9 507.9Z" fill="#000"/>
<text class="t" x="106.3" y="56.1" font-size="14.2" font-style="italic" stroke="#111" stroke-width="0.3">b<tspan font-size="11" dy="2.7">h</tspan></text>
<text class="t" x="360.6" y="58.1" font-size="14.2" font-style="italic" stroke="#111" stroke-width="0.3">c<tspan font-size="11.5" dy="2.4">rh</tspan></text>
<text class="t" x="116.3" y="224.4" font-size="14.2" font-style="italic" stroke="#111" stroke-width="0.3">b<tspan font-size="11" dy="2.7">h</tspan><tspan dy="-2.7">, c</tspan><tspan font-size="11" dy="2.2">rh</tspan></text>
<text class="t" x="364.9" y="251.1" font-size="13.5" stroke="#111" stroke-width="0.3">&#915;<tspan font-size="9.5" dy="2.5" font-style="italic">h</tspan></text>
<text class="t" x="73.5" y="524.5" font-size="14" font-style="italic" stroke="#111" stroke-width="0.3">&#948;</text>
<path d="M191.6 60.6H207.6" stroke="#7fa6dc" stroke-width="0.8" opacity="0.75"/>
<path d="M199.6 58.6L201.6 62L197.6 62Z" fill="#2a6bd2"/>
<text x="210.7" y="63.1" font-size="7.3" letter-spacing="0.2" fill="#484848" stroke="#484848" stroke-width="0.2" style="font-family:'Liberation Serif',serif">0.90<tspan font-style="italic">b</tspan><tspan font-style="italic" font-size="5.2" dy="1.5" letter-spacing="0">h</tspan><tspan dy="-1.5"></tspan>:0.90<tspan font-style="italic">AR</tspan><tspan font-style="italic" font-size="5.2" dy="1.5" letter-spacing="0">h</tspan><tspan dy="-1.5"></tspan></text>
<path d="M191.6 69.1H207.6" stroke="#7c8aa5" stroke-width="0.8" opacity="0.75"/>
<circle cx="199.6" cy="69.1" r="1.4" fill="#1f3864"/>
<text x="210.7" y="71.6" font-size="7.3" letter-spacing="0.2" fill="#484848" stroke="#484848" stroke-width="0.2" style="font-family:'Liberation Serif',serif">0.92<tspan font-style="italic">b</tspan><tspan font-style="italic" font-size="5.2" dy="1.5" letter-spacing="0">h</tspan><tspan dy="-1.5"></tspan>:0.92<tspan font-style="italic">AR</tspan><tspan font-style="italic" font-size="5.2" dy="1.5" letter-spacing="0">h</tspan><tspan dy="-1.5"></tspan></text>
<path d="M191.6 77.7H207.6" stroke="#cfcfcf" stroke-width="0.8" opacity="0.75"/>
<path d="M199.6 75.6L201.6 79L197.6 79Z" fill="#a5a5a5"/>
<text x="210.7" y="80.2" font-size="7.3" letter-spacing="0.2" fill="#484848" stroke="#484848" stroke-width="0.2" style="font-family:'Liberation Serif',serif">0.94<tspan font-style="italic">b</tspan><tspan font-style="italic" font-size="5.2" dy="1.5" letter-spacing="0">h</tspan><tspan dy="-1.5"></tspan>:0.94<tspan font-style="italic">AR</tspan><tspan font-style="italic" font-size="5.2" dy="1.5" letter-spacing="0">h</tspan><tspan dy="-1.5"></tspan></text>
<path d="M191.6 86.2H207.6" stroke="#7fa6dc" stroke-width="0.8" opacity="0.75"/>
<path d="M199.6 84.1L201.6 87.6L197.6 87.6Z" fill="#2a6bd2"/>
<text x="210.7" y="88.7" font-size="7.3" letter-spacing="0.2" fill="#484848" stroke="#484848" stroke-width="0.2" style="font-family:'Liberation Serif',serif">0.96<tspan font-style="italic">b</tspan><tspan font-style="italic" font-size="5.2" dy="1.5" letter-spacing="0">h</tspan><tspan dy="-1.5"></tspan>:0.96<tspan font-style="italic">AR</tspan><tspan font-style="italic" font-size="5.2" dy="1.5" letter-spacing="0">h</tspan><tspan dy="-1.5"></tspan></text>
<path d="M191.6 94.7H207.6" stroke="#b0b0b0" stroke-width="0.8" opacity="0.75"/>
<circle cx="199.6" cy="94.7" r="1.4" fill="#7f7f7f"/>
<text x="210.7" y="97.2" font-size="7.3" letter-spacing="0.2" fill="#484848" stroke="#484848" stroke-width="0.2" style="font-family:'Liberation Serif',serif">0.98<tspan font-style="italic">b</tspan><tspan font-style="italic" font-size="5.2" dy="1.5" letter-spacing="0">h</tspan><tspan dy="-1.5"></tspan>:0.98<tspan font-style="italic">AR</tspan><tspan font-style="italic" font-size="5.2" dy="1.5" letter-spacing="0">h</tspan><tspan dy="-1.5"></tspan></text>
<path d="M191.6 103.2H207.6" stroke="#ff6060" stroke-width="0.8" opacity="0.75"/>
<circle cx="199.6" cy="103.2" r="1.4" fill="#ff0000"/>
<text x="210.7" y="105.8" font-size="7.3" letter-spacing="0.2" fill="#484848" stroke="#484848" stroke-width="0.2" style="font-family:'Liberation Serif',serif">1.00<tspan font-style="italic">b</tspan><tspan font-style="italic" font-size="5.2" dy="1.5" letter-spacing="0">h</tspan><tspan dy="-1.5"></tspan>:1.00<tspan font-style="italic">AR</tspan><tspan font-style="italic" font-size="5.2" dy="1.5" letter-spacing="0">h</tspan><tspan dy="-1.5"></tspan></text>
<path d="M191.6 111.8H207.6" stroke="#8098c8" stroke-width="0.8" opacity="0.75"/>
<path d="M199.6 109.7L201.6 113.1L197.6 113.1Z" fill="#203d7a"/>
<text x="210.7" y="114.3" font-size="7.3" letter-spacing="0.2" fill="#484848" stroke="#484848" stroke-width="0.2" style="font-family:'Liberation Serif',serif">1.02<tspan font-style="italic">b</tspan><tspan font-style="italic" font-size="5.2" dy="1.5" letter-spacing="0">h</tspan><tspan dy="-1.5"></tspan>:1.02<tspan font-style="italic">AR</tspan><tspan font-style="italic" font-size="5.2" dy="1.5" letter-spacing="0">h</tspan><tspan dy="-1.5"></tspan></text>
<path d="M191.6 120.3H207.6" stroke="#d9926a" stroke-width="0.8" opacity="0.75"/>
<circle cx="199.6" cy="120.3" r="1.4" fill="#b4500f"/>
<text x="210.7" y="122.8" font-size="7.3" letter-spacing="0.2" fill="#484848" stroke="#484848" stroke-width="0.2" style="font-family:'Liberation Serif',serif">1.04<tspan font-style="italic">b</tspan><tspan font-style="italic" font-size="5.2" dy="1.5" letter-spacing="0">h</tspan><tspan dy="-1.5"></tspan>:1.04<tspan font-style="italic">AR</tspan><tspan font-style="italic" font-size="5.2" dy="1.5" letter-spacing="0">h</tspan><tspan dy="-1.5"></tspan></text>
<path d="M191.6 128.8H207.6" stroke="#9a9a9a" stroke-width="0.8" opacity="0.75"/>
<circle cx="199.6" cy="128.8" r="1.4" fill="#595959"/>
<text x="210.7" y="131.3" font-size="7.3" letter-spacing="0.2" fill="#484848" stroke="#484848" stroke-width="0.2" style="font-family:'Liberation Serif',serif">1.06<tspan font-style="italic">b</tspan><tspan font-style="italic" font-size="5.2" dy="1.5" letter-spacing="0">h</tspan><tspan dy="-1.5"></tspan>:1.06<tspan font-style="italic">AR</tspan><tspan font-style="italic" font-size="5.2" dy="1.5" letter-spacing="0">h</tspan><tspan dy="-1.5"></tspan></text>
<path d="M191.6 137.4H207.6" stroke="#cfae5a" stroke-width="0.8" opacity="0.75"/>
<circle cx="199.6" cy="137.4" r="1.4" fill="#a67c00"/>
<text x="210.7" y="139.9" font-size="7.3" letter-spacing="0.2" fill="#484848" stroke="#484848" stroke-width="0.2" style="font-family:'Liberation Serif',serif">1.08<tspan font-style="italic">b</tspan><tspan font-style="italic" font-size="5.2" dy="1.5" letter-spacing="0">h</tspan><tspan dy="-1.5"></tspan>:1.08<tspan font-style="italic">AR</tspan><tspan font-style="italic" font-size="5.2" dy="1.5" letter-spacing="0">h</tspan><tspan dy="-1.5"></tspan></text>
<path d="M191.6 145.9H207.6" stroke="#f6b183" stroke-width="0.8" opacity="0.75"/>
<circle cx="199.6" cy="145.9" r="1.4" fill="#f07c28"/>
<text x="210.7" y="148.4" font-size="7.3" letter-spacing="0.2" fill="#484848" stroke="#484848" stroke-width="0.2" style="font-family:'Liberation Serif',serif">1.10<tspan font-style="italic">b</tspan><tspan font-style="italic" font-size="5.2" dy="1.5" letter-spacing="0">h</tspan><tspan dy="-1.5"></tspan>:1.10<tspan font-style="italic">AR</tspan><tspan font-style="italic" font-size="5.2" dy="1.5" letter-spacing="0">h</tspan><tspan dy="-1.5"></tspan></text>
<path d="M447 66.6H463.3" stroke="#7fa6dc" stroke-width="0.8" opacity="0.75"/>
<path d="M454.8 64.6L456.8 68L452.8 68Z" fill="#2a6bd2"/>
<text x="467.3" y="69.1" font-size="7.3" letter-spacing="0.4" fill="#484848" stroke="#484848" stroke-width="0.2" style="font-family:'Liberation Serif',serif">0.90<tspan font-style="italic">c</tspan><tspan font-style="italic" font-size="5.2" dy="1.5" letter-spacing="0">rh</tspan><tspan dy="-1.5"></tspan>:1.10<tspan font-style="italic">AR</tspan><tspan font-style="italic" font-size="5.2" dy="1.5" letter-spacing="0">h</tspan><tspan dy="-1.5"></tspan></text>
<path d="M447 75H463.3" stroke="#7c8aa5" stroke-width="0.8" opacity="0.75"/>
<circle cx="454.8" cy="75" r="1.4" fill="#1f3864"/>
<text x="467.3" y="77.5" font-size="7.3" letter-spacing="0.4" fill="#484848" stroke="#484848" stroke-width="0.2" style="font-family:'Liberation Serif',serif">0.92<tspan font-style="italic">c</tspan><tspan font-style="italic" font-size="5.2" dy="1.5" letter-spacing="0">rh</tspan><tspan dy="-1.5"></tspan>:1.08<tspan font-style="italic">AR</tspan><tspan font-style="italic" font-size="5.2" dy="1.5" letter-spacing="0">h</tspan><tspan dy="-1.5"></tspan></text>
<path d="M447 83.4H463.3" stroke="#cfcfcf" stroke-width="0.8" opacity="0.75"/>
<path d="M454.8 81.4L456.8 84.8L452.8 84.8Z" fill="#a5a5a5"/>
<text x="467.3" y="85.9" font-size="7.3" letter-spacing="0.4" fill="#484848" stroke="#484848" stroke-width="0.2" style="font-family:'Liberation Serif',serif">0.94<tspan font-style="italic">c</tspan><tspan font-style="italic" font-size="5.2" dy="1.5" letter-spacing="0">rh</tspan><tspan dy="-1.5"></tspan>:1.06<tspan font-style="italic">AR</tspan><tspan font-style="italic" font-size="5.2" dy="1.5" letter-spacing="0">h</tspan><tspan dy="-1.5"></tspan></text>
<path d="M447 91.8H463.3" stroke="#86c4ee" stroke-width="0.8" opacity="0.75"/>
<path d="M454.8 89.8L456.8 93.2L452.8 93.2Z" fill="#2aa0e6"/>
<text x="467.3" y="94.3" font-size="7.3" letter-spacing="0.4" fill="#484848" stroke="#484848" stroke-width="0.2" style="font-family:'Liberation Serif',serif">0.96<tspan font-style="italic">c</tspan><tspan font-style="italic" font-size="5.2" dy="1.5" letter-spacing="0">rh</tspan><tspan dy="-1.5"></tspan>:1.04<tspan font-style="italic">AR</tspan><tspan font-style="italic" font-size="5.2" dy="1.5" letter-spacing="0">h</tspan><tspan dy="-1.5"></tspan></text>
<path d="M447 100.2H463.3" stroke="#b0b0b0" stroke-width="0.8" opacity="0.75"/>
<circle cx="454.8" cy="100.2" r="1.4" fill="#7f7f7f"/>
<text x="467.3" y="102.7" font-size="7.3" letter-spacing="0.4" fill="#484848" stroke="#484848" stroke-width="0.2" style="font-family:'Liberation Serif',serif">0.98<tspan font-style="italic">c</tspan><tspan font-style="italic" font-size="5.2" dy="1.5" letter-spacing="0">rh</tspan><tspan dy="-1.5"></tspan>:1.02<tspan font-style="italic">AR</tspan><tspan font-style="italic" font-size="5.2" dy="1.5" letter-spacing="0">h</tspan><tspan dy="-1.5"></tspan></text>
<path d="M447 108.6H463.3" stroke="#ff6060" stroke-width="0.8" opacity="0.75"/>
<circle cx="454.8" cy="108.6" r="1.4" fill="#ff0000"/>
<text x="467.3" y="111.1" font-size="7.3" letter-spacing="0.4" fill="#484848" stroke="#484848" stroke-width="0.2" style="font-family:'Liberation Serif',serif">1.00<tspan font-style="italic">c</tspan><tspan font-style="italic" font-size="5.2" dy="1.5" letter-spacing="0">rh</tspan><tspan dy="-1.5"></tspan>:1.00<tspan font-style="italic">AR</tspan><tspan font-style="italic" font-size="5.2" dy="1.5" letter-spacing="0">h</tspan><tspan dy="-1.5"></tspan></text>
<path d="M447 117H463.3" stroke="#8098c8" stroke-width="0.8" opacity="0.75"/>
<path d="M454.8 115L456.8 118.4L452.8 118.4Z" fill="#203d7a"/>
<text x="467.3" y="119.5" font-size="7.3" letter-spacing="0.4" fill="#484848" stroke="#484848" stroke-width="0.2" style="font-family:'Liberation Serif',serif">1.02<tspan font-style="italic">c</tspan><tspan font-style="italic" font-size="5.2" dy="1.5" letter-spacing="0">rh</tspan><tspan dy="-1.5"></tspan>:0.98<tspan font-style="italic">AR</tspan><tspan font-style="italic" font-size="5.2" dy="1.5" letter-spacing="0">h</tspan><tspan dy="-1.5"></tspan></text>
<path d="M447 125.4H463.3" stroke="#d9926a" stroke-width="0.8" opacity="0.75"/>
<circle cx="454.8" cy="125.4" r="1.4" fill="#b4500f"/>
<text x="467.3" y="127.9" font-size="7.3" letter-spacing="0.4" fill="#484848" stroke="#484848" stroke-width="0.2" style="font-family:'Liberation Serif',serif">1.04<tspan font-style="italic">c</tspan><tspan font-style="italic" font-size="5.2" dy="1.5" letter-spacing="0">rh</tspan><tspan dy="-1.5"></tspan>:0.96<tspan font-style="italic">AR</tspan><tspan font-style="italic" font-size="5.2" dy="1.5" letter-spacing="0">h</tspan><tspan dy="-1.5"></tspan></text>
<path d="M447 133.8H463.3" stroke="#9a9a9a" stroke-width="0.8" opacity="0.75"/>
<circle cx="454.8" cy="133.8" r="1.4" fill="#595959"/>
<text x="467.3" y="136.3" font-size="7.3" letter-spacing="0.4" fill="#484848" stroke="#484848" stroke-width="0.2" style="font-family:'Liberation Serif',serif">1.06<tspan font-style="italic">c</tspan><tspan font-style="italic" font-size="5.2" dy="1.5" letter-spacing="0">rh</tspan><tspan dy="-1.5"></tspan>:0.94<tspan font-style="italic">AR</tspan><tspan font-style="italic" font-size="5.2" dy="1.5" letter-spacing="0">h</tspan><tspan dy="-1.5"></tspan></text>
<path d="M447 142.2H463.3" stroke="#cfae5a" stroke-width="0.8" opacity="0.75"/>
<circle cx="454.8" cy="142.2" r="1.4" fill="#a67c00"/>
<text x="467.3" y="144.7" font-size="7.3" letter-spacing="0.4" fill="#484848" stroke="#484848" stroke-width="0.2" style="font-family:'Liberation Serif',serif">1.08<tspan font-style="italic">c</tspan><tspan font-style="italic" font-size="5.2" dy="1.5" letter-spacing="0">rh</tspan><tspan dy="-1.5"></tspan>:0.92<tspan font-style="italic">AR</tspan><tspan font-style="italic" font-size="5.2" dy="1.5" letter-spacing="0">h</tspan><tspan dy="-1.5"></tspan></text>
<path d="M447 150.6H463.3" stroke="#f6b183" stroke-width="0.8" opacity="0.75"/>
<circle cx="454.8" cy="150.6" r="1.4" fill="#f07c28"/>
<text x="467.3" y="153.1" font-size="7.3" letter-spacing="0.4" fill="#484848" stroke="#484848" stroke-width="0.2" style="font-family:'Liberation Serif',serif">1.10<tspan font-style="italic">c</tspan><tspan font-style="italic" font-size="5.2" dy="1.5" letter-spacing="0">rh</tspan><tspan dy="-1.5"></tspan>:0.90<tspan font-style="italic">AR</tspan><tspan font-style="italic" font-size="5.2" dy="1.5" letter-spacing="0">h</tspan><tspan dy="-1.5"></tspan></text>
<path d="M193 237.3H209" stroke="#7fa6dc" stroke-width="0.8" opacity="0.75"/>
<path d="M201.3 235.3L203.3 238.7L199.3 238.7Z" fill="#2a6bd2"/>
<text x="212.8" y="239.8" font-size="7.3" letter-spacing="0.3" fill="#484848" stroke="#484848" stroke-width="0.2" style="font-family:'Liberation Serif',serif">0.90<tspan font-style="italic">b</tspan><tspan font-style="italic" font-size="5.2" dy="1.5" letter-spacing="0">h</tspan><tspan dy="-1.5"></tspan>:0.90<tspan font-style="italic">c</tspan><tspan font-style="italic" font-size="5.2" dy="1.5" letter-spacing="0">rh</tspan><tspan dy="-1.5"></tspan></text>
<path d="M193 245.8H209" stroke="#7c8aa5" stroke-width="0.8" opacity="0.75"/>
<circle cx="201.3" cy="245.8" r="1.4" fill="#1f3864"/>
<text x="212.8" y="248.3" font-size="7.3" letter-spacing="0.3" fill="#484848" stroke="#484848" stroke-width="0.2" style="font-family:'Liberation Serif',serif">0.92<tspan font-style="italic">b</tspan><tspan font-style="italic" font-size="5.2" dy="1.5" letter-spacing="0">h</tspan><tspan dy="-1.5"></tspan>:0.92<tspan font-style="italic">c</tspan><tspan font-style="italic" font-size="5.2" dy="1.5" letter-spacing="0">rh</tspan><tspan dy="-1.5"></tspan></text>
<path d="M193 254.4H209" stroke="#cfcfcf" stroke-width="0.8" opacity="0.75"/>
<path d="M201.3 252.3L203.3 255.7L199.3 255.7Z" fill="#a5a5a5"/>
<text x="212.8" y="256.9" font-size="7.3" letter-spacing="0.3" fill="#484848" stroke="#484848" stroke-width="0.2" style="font-family:'Liberation Serif',serif">0.94<tspan font-style="italic">b</tspan><tspan font-style="italic" font-size="5.2" dy="1.5" letter-spacing="0">h</tspan><tspan dy="-1.5"></tspan>:0.94<tspan font-style="italic">c</tspan><tspan font-style="italic" font-size="5.2" dy="1.5" letter-spacing="0">rh</tspan><tspan dy="-1.5"></tspan></text>
<path d="M193 262.9H209" stroke="#86c4ee" stroke-width="0.8" opacity="0.75"/>
<path d="M201.3 260.8L203.3 264.3L199.3 264.3Z" fill="#2aa0e6"/>
<text x="212.8" y="265.4" font-size="7.3" letter-spacing="0.3" fill="#484848" stroke="#484848" stroke-width="0.2" style="font-family:'Liberation Serif',serif">0.96<tspan font-style="italic">b</tspan><tspan font-style="italic" font-size="5.2" dy="1.5" letter-spacing="0">h</tspan><tspan dy="-1.5"></tspan>:0.96<tspan font-style="italic">c</tspan><tspan font-style="italic" font-size="5.2" dy="1.5" letter-spacing="0">rh</tspan><tspan dy="-1.5"></tspan></text>
<path d="M193 271.4H209" stroke="#b0b0b0" stroke-width="0.8" opacity="0.75"/>
<circle cx="201.3" cy="271.4" r="1.4" fill="#7f7f7f"/>
<text x="212.8" y="273.9" font-size="7.3" letter-spacing="0.3" fill="#484848" stroke="#484848" stroke-width="0.2" style="font-family:'Liberation Serif',serif">0.98<tspan font-style="italic">b</tspan><tspan font-style="italic" font-size="5.2" dy="1.5" letter-spacing="0">h</tspan><tspan dy="-1.5"></tspan>:0.98<tspan font-style="italic">c</tspan><tspan font-style="italic" font-size="5.2" dy="1.5" letter-spacing="0">rh</tspan><tspan dy="-1.5"></tspan></text>
<path d="M193 280H209" stroke="#ff6060" stroke-width="0.8" opacity="0.75"/>
<circle cx="201.3" cy="280" r="1.4" fill="#ff0000"/>
<text x="212.8" y="282.5" font-size="7.3" letter-spacing="0.3" fill="#484848" stroke="#484848" stroke-width="0.2" style="font-family:'Liberation Serif',serif">1.00<tspan font-style="italic">b</tspan><tspan font-style="italic" font-size="5.2" dy="1.5" letter-spacing="0">h</tspan><tspan dy="-1.5"></tspan>:1.00<tspan font-style="italic">c</tspan><tspan font-style="italic" font-size="5.2" dy="1.5" letter-spacing="0">rh</tspan><tspan dy="-1.5"></tspan></text>
<path d="M193 288.5H209" stroke="#8098c8" stroke-width="0.8" opacity="0.75"/>
<path d="M201.3 286.4L203.3 289.8L199.3 289.8Z" fill="#203d7a"/>
<text x="212.8" y="291" font-size="7.3" letter-spacing="0.3" fill="#484848" stroke="#484848" stroke-width="0.2" style="font-family:'Liberation Serif',serif">1.02<tspan font-style="italic">b</tspan><tspan font-style="italic" font-size="5.2" dy="1.5" letter-spacing="0">h</tspan><tspan dy="-1.5"></tspan>:1.02<tspan font-style="italic">c</tspan><tspan font-style="italic" font-size="5.2" dy="1.5" letter-spacing="0">rh</tspan><tspan dy="-1.5"></tspan></text>
<path d="M193 297H209" stroke="#d9926a" stroke-width="0.8" opacity="0.75"/>
<circle cx="201.3" cy="297" r="1.4" fill="#b4500f"/>
<text x="212.8" y="299.5" font-size="7.3" letter-spacing="0.3" fill="#484848" stroke="#484848" stroke-width="0.2" style="font-family:'Liberation Serif',serif">1.04<tspan font-style="italic">b</tspan><tspan font-style="italic" font-size="5.2" dy="1.5" letter-spacing="0">h</tspan><tspan dy="-1.5"></tspan>:1.04<tspan font-style="italic">c</tspan><tspan font-style="italic" font-size="5.2" dy="1.5" letter-spacing="0">rh</tspan><tspan dy="-1.5"></tspan></text>
<path d="M193 305.5H209" stroke="#9a9a9a" stroke-width="0.8" opacity="0.75"/>
<circle cx="201.3" cy="305.5" r="1.4" fill="#595959"/>
<text x="212.8" y="308" font-size="7.3" letter-spacing="0.3" fill="#484848" stroke="#484848" stroke-width="0.2" style="font-family:'Liberation Serif',serif">1.06<tspan font-style="italic">b</tspan><tspan font-style="italic" font-size="5.2" dy="1.5" letter-spacing="0">h</tspan><tspan dy="-1.5"></tspan>:1.06<tspan font-style="italic">c</tspan><tspan font-style="italic" font-size="5.2" dy="1.5" letter-spacing="0">rh</tspan><tspan dy="-1.5"></tspan></text>
<path d="M193 314.1H209" stroke="#cfae5a" stroke-width="0.8" opacity="0.75"/>
<circle cx="201.3" cy="314.1" r="1.4" fill="#a67c00"/>
<text x="212.8" y="316.6" font-size="7.3" letter-spacing="0.3" fill="#484848" stroke="#484848" stroke-width="0.2" style="font-family:'Liberation Serif',serif">1.08<tspan font-style="italic">b</tspan><tspan font-style="italic" font-size="5.2" dy="1.5" letter-spacing="0">h</tspan><tspan dy="-1.5"></tspan>:1.08<tspan font-style="italic">c</tspan><tspan font-style="italic" font-size="5.2" dy="1.5" letter-spacing="0">rh</tspan><tspan dy="-1.5"></tspan></text>
<path d="M193 322.6H209" stroke="#f6b183" stroke-width="0.8" opacity="0.75"/>
<circle cx="201.3" cy="322.6" r="1.4" fill="#f07c28"/>
<text x="212.8" y="325.1" font-size="7.3" letter-spacing="0.3" fill="#484848" stroke="#484848" stroke-width="0.2" style="font-family:'Liberation Serif',serif">1.10<tspan font-style="italic">b</tspan><tspan font-style="italic" font-size="5.2" dy="1.5" letter-spacing="0">h</tspan><tspan dy="-1.5"></tspan>:1.10<tspan font-style="italic">c</tspan><tspan font-style="italic" font-size="5.2" dy="1.5" letter-spacing="0">rh</tspan><tspan dy="-1.5"></tspan></text>
<path d="M452.8 238.5H468.5" stroke="#ff5050" stroke-width="0.8" opacity="0.75"/>
<path d="M460.4 236.1L462.8 240.1L458 240.1Z" fill="#ff0000"/>
<text x="475" y="241" font-size="7.6" letter-spacing="0" fill="#484848" stroke="#484848" stroke-width="0.2" style="font-family:'Liberation Serif',serif">&#915;<tspan font-style="italic" font-size="5.2" dy="1.5" letter-spacing="0">h</tspan><tspan dy="-1.5"></tspan><tspan x="483">=</tspan><tspan x="489.8">&#8722;6&#176;</tspan></text>
<path d="M452.8 246.6H468.5" stroke="#ffd966" stroke-width="0.8" opacity="0.75"/>
<circle cx="460.4" cy="246.6" r="1.7" fill="#ffc000"/>
<text x="475" y="249.1" font-size="7.6" letter-spacing="0" fill="#484848" stroke="#484848" stroke-width="0.2" style="font-family:'Liberation Serif',serif">&#915;<tspan font-style="italic" font-size="5.2" dy="1.5" letter-spacing="0">h</tspan><tspan dy="-1.5"></tspan><tspan x="483">=</tspan><tspan x="489.8">&#8722;5&#176;</tspan></text>
<path d="M452.8 254.6H468.5" stroke="#a0a0a0" stroke-width="0.8" opacity="0.75"/>
<circle cx="460.4" cy="254.6" r="1.7" fill="#7f7f7f"/>
<text x="475" y="257.1" font-size="7.6" letter-spacing="0" fill="#484848" stroke="#484848" stroke-width="0.2" style="font-family:'Liberation Serif',serif">&#915;<tspan font-style="italic" font-size="5.2" dy="1.5" letter-spacing="0">h</tspan><tspan dy="-1.5"></tspan><tspan x="483">=</tspan><tspan x="489.8">&#8722;4&#176;</tspan></text>
<path d="M452.8 262.7H468.5" stroke="#f4b183" stroke-width="0.8" opacity="0.75"/>
<path d="M460.4 260.3L462.8 264.3L458 264.3Z" fill="#ed7d31"/>
<text x="475" y="265.2" font-size="7.6" letter-spacing="0" fill="#484848" stroke="#484848" stroke-width="0.2" style="font-family:'Liberation Serif',serif">&#915;<tspan font-style="italic" font-size="5.2" dy="1.5" letter-spacing="0">h</tspan><tspan dy="-1.5"></tspan><tspan x="483">=</tspan><tspan x="489.8">&#8722;3&#176;</tspan></text>
<path d="M452.8 270.8H468.5" stroke="#8c8c8c" stroke-width="0.8" opacity="0.75" stroke-dasharray="1.3 1.3"/>
<circle cx="460.4" cy="270.8" r="1.4" fill="#595959"/>
<text x="475" y="273.3" font-size="7.6" letter-spacing="0" fill="#484848" stroke="#484848" stroke-width="0.2" style="font-family:'Liberation Serif',serif">&#915;<tspan font-style="italic" font-size="5.2" dy="1.5" letter-spacing="0">h</tspan><tspan dy="-1.5"></tspan><tspan x="483">=</tspan><tspan x="489.8">&#8722;2&#176;</tspan></text>
<path d="M452.8 278.8H468.5" stroke="#92d050" stroke-width="0.8" opacity="0.75"/>
<path d="M460.4 276.4L462.8 280.4L458 280.4Z" fill="#00b050"/>
<text x="475" y="281.3" font-size="7.6" letter-spacing="0" fill="#484848" stroke="#484848" stroke-width="0.2" style="font-family:'Liberation Serif',serif">&#915;<tspan font-style="italic" font-size="5.2" dy="1.5" letter-spacing="0">h</tspan><tspan dy="-1.5"></tspan><tspan x="483">=</tspan><tspan x="489.8">&#8722;1&#176;</tspan></text>
<path d="M452.8 286.9H468.5" stroke="#ff5050" stroke-width="0.8" opacity="0.75"/>
<rect x="458.5" y="285" width="3.8" height="3.8" fill="#ff0000"/>
<text x="475" y="289.4" font-size="7.6" letter-spacing="0" fill="#484848" stroke="#484848" stroke-width="0.2" style="font-family:'Liberation Serif',serif">&#915;<tspan font-style="italic" font-size="5.2" dy="1.5" letter-spacing="0">h</tspan><tspan dy="-1.5"></tspan><tspan x="483">=</tspan><tspan x="489.8">&#160;&#160;&#160;0&#176;</tspan></text>
<path d="M452.8 295H468.5" stroke="#d88a5a" stroke-width="0.8" opacity="0.75" stroke-dasharray="1.3 1.3"/>
<circle cx="460.4" cy="295" r="1.7" fill="#c55a11"/>
<text x="475" y="297.5" font-size="7.6" letter-spacing="0" fill="#484848" stroke="#484848" stroke-width="0.2" style="font-family:'Liberation Serif',serif">&#915;<tspan font-style="italic" font-size="5.2" dy="1.5" letter-spacing="0">h</tspan><tspan dy="-1.5"></tspan><tspan x="483">=</tspan><tspan x="489.8">+1&#176;</tspan></text>
<path d="M452.8 303H468.5" stroke="#f4b183" stroke-width="0.8" opacity="0.75" stroke-dasharray="1.3 1.3"/>
<rect x="458.5" y="301.1" width="3.8" height="3.8" fill="#ed7d31"/>
<text x="475" y="305.5" font-size="7.6" letter-spacing="0" fill="#484848" stroke="#484848" stroke-width="0.2" style="font-family:'Liberation Serif',serif">&#915;<tspan font-style="italic" font-size="5.2" dy="1.5" letter-spacing="0">h</tspan><tspan dy="-1.5"></tspan><tspan x="483">=</tspan><tspan x="489.8">+2&#176;</tspan></text>
<path d="M452.8 311.1H468.5" stroke="#d5b04a" stroke-width="0.8" opacity="0.75"/>
<circle cx="460.4" cy="311.1" r="1.7" fill="#bf8f00"/>
<text x="475" y="313.6" font-size="7.6" letter-spacing="0" fill="#484848" stroke="#484848" stroke-width="0.2" style="font-family:'Liberation Serif',serif">&#915;<tspan font-style="italic" font-size="5.2" dy="1.5" letter-spacing="0">h</tspan><tspan dy="-1.5"></tspan><tspan x="483">=</tspan><tspan x="489.8">+3&#176;</tspan></text>
<path d="M452.8 319.2H468.5" stroke="#6f8fc8" stroke-width="0.8" opacity="0.75" stroke-dasharray="1.3 1.3"/>
<path d="M460.4 316.7L462.8 320.8L458 320.8Z" fill="#2f5597"/>
<text x="475" y="321.7" font-size="7.6" letter-spacing="0" fill="#484848" stroke="#484848" stroke-width="0.2" style="font-family:'Liberation Serif',serif">&#915;<tspan font-style="italic" font-size="5.2" dy="1.5" letter-spacing="0">h</tspan><tspan dy="-1.5"></tspan><tspan x="483">=</tspan><tspan x="489.8">+4&#176;</tspan></text>
<path d="M452.8 327.2H468.5" stroke="#92d050" stroke-width="0.8" opacity="0.75"/>
<circle cx="460.4" cy="327.2" r="1.7" fill="#00b050"/>
<text x="475" y="329.7" font-size="7.6" letter-spacing="0" fill="#484848" stroke="#484848" stroke-width="0.2" style="font-family:'Liberation Serif',serif">&#915;<tspan font-style="italic" font-size="5.2" dy="1.5" letter-spacing="0">h</tspan><tspan dy="-1.5"></tspan><tspan x="483">=</tspan><tspan x="489.8">+5&#176;</tspan></text>
<path d="M452.8 335.3H468.5" stroke="#8fb4e3" stroke-width="0.8" opacity="0.75"/>
<path d="M460.4 332.9L462.8 336.9L458 336.9Z" fill="#4a86d8"/>
<text x="475" y="337.8" font-size="7.6" letter-spacing="0" fill="#484848" stroke="#484848" stroke-width="0.2" style="font-family:'Liberation Serif',serif">&#915;<tspan font-style="italic" font-size="5.2" dy="1.5" letter-spacing="0">h</tspan><tspan dy="-1.5"></tspan><tspan x="483">=</tspan><tspan x="489.8">+6&#176;</tspan></text>
<path d="M179.4 448.4H189.4" stroke="#7fa6dc" stroke-width="0.8" opacity="0.75"/>
<circle cx="185.1" cy="448.4" r="1.4" fill="#2f6fd0"/>
<text x="193.4" y="450.9" font-size="8.5" letter-spacing="0.1" fill="#484848" stroke="#484848" stroke-width="0.3" style="font-family:'Liberation Serif',serif"><tspan font-style="italic">&#948;</tspan> = &#8722;2.0&#176;</text>
<path d="M179.4 456.9H189.4" stroke="#f4b183" stroke-width="0.8" opacity="0.75"/>
<circle cx="185.1" cy="456.9" r="1.4" fill="#ed7d31"/>
<text x="193.4" y="459.4" font-size="8.5" letter-spacing="0.1" fill="#484848" stroke="#484848" stroke-width="0.3" style="font-family:'Liberation Serif',serif"><tspan font-style="italic">&#948;</tspan> = &#8722;1.5&#176;</text>
<path d="M179.4 465.5H189.4" stroke="#cfcfcf" stroke-width="0.8" opacity="0.75"/>
<circle cx="185.1" cy="465.5" r="1.4" fill="#a5a5a5"/>
<text x="193.4" y="468" font-size="8.5" letter-spacing="0.1" fill="#484848" stroke="#484848" stroke-width="0.3" style="font-family:'Liberation Serif',serif"><tspan font-style="italic">&#948;</tspan> = &#8722;1.0&#176;</text>
<path d="M179.4 474H189.4" stroke="#f6b183" stroke-width="0.8" opacity="0.75"/>
<circle cx="185.1" cy="474" r="1.4" fill="#f08030"/>
<text x="193.4" y="476.5" font-size="8.5" letter-spacing="0.1" fill="#484848" stroke="#484848" stroke-width="0.3" style="font-family:'Liberation Serif',serif"><tspan font-style="italic">&#948;</tspan> = &#8722;0.5&#176;</text>
<path d="M179.4 482.6H189.4" stroke="#ff6060" stroke-width="0.8" opacity="0.75"/>
<circle cx="185.1" cy="482.6" r="1.4" fill="#ff0000"/>
<text x="193.4" y="485.1" font-size="8.5" letter-spacing="0.1" fill="#484848" stroke="#484848" stroke-width="0.3" style="font-family:'Liberation Serif',serif"><tspan font-style="italic">&#948;</tspan> = &#160;&#160;0.0&#176;</text>
<path d="M179.4 491.1H189.4" stroke="#80cc80" stroke-width="0.8" opacity="0.75"/>
<circle cx="185.1" cy="491.1" r="1.4" fill="#22a52a"/>
<text x="193.4" y="493.6" font-size="8.5" letter-spacing="0.1" fill="#484848" stroke="#484848" stroke-width="0.3" style="font-family:'Liberation Serif',serif"><tspan font-style="italic">&#948;</tspan> = +0.5&#176;</text>
<path d="M179.4 499.6H189.4" stroke="#7f90c0" stroke-width="0.8" opacity="0.75"/>
<circle cx="185.1" cy="499.6" r="1.4" fill="#1f3f8a"/>
<text x="193.4" y="502.1" font-size="8.5" letter-spacing="0.1" fill="#484848" stroke="#484848" stroke-width="0.3" style="font-family:'Liberation Serif',serif"><tspan font-style="italic">&#948;</tspan> = +1.0&#176;</text>
<path d="M179.4 508.2H189.4" stroke="#cf8a60" stroke-width="0.8" opacity="0.75"/>
<circle cx="185.1" cy="508.2" r="1.4" fill="#a0400a"/>
<text x="193.4" y="510.7" font-size="8.5" letter-spacing="0.1" fill="#484848" stroke="#484848" stroke-width="0.3" style="font-family:'Liberation Serif',serif"><tspan font-style="italic">&#948;</tspan> = +1.5&#176;</text>
<path d="M179.4 516.7H189.4" stroke="#999999" stroke-width="0.8" opacity="0.75"/>
<circle cx="185.1" cy="516.7" r="1.4" fill="#555555"/>
<text x="193.4" y="519.2" font-size="8.5" letter-spacing="0.1" fill="#484848" stroke="#484848" stroke-width="0.3" style="font-family:'Liberation Serif',serif"><tspan font-style="italic">&#948;</tspan> = +2.0&#176;</text>
<defs>
<linearGradient id="wingg" x1="0" y1="0" x2="0.35" y2="1">
<stop offset="0" stop-color="#c6cac9"/><stop offset="0.45" stop-color="#b4b8b7"/><stop offset="1" stop-color="#a9adac"/>
</linearGradient>
<linearGradient id="wingr" x1="0" y1="0" x2="0.2" y2="1">
<stop offset="0" stop-color="#a3a7a6"/><stop offset="0.4" stop-color="#adb1b0"/><stop offset="1" stop-color="#b5b9b8"/>
</linearGradient>
<linearGradient id="tailg" x1="0" y1="0" x2="0.4" y2="1">
<stop offset="0" stop-color="#f6d09a"/><stop offset="0.7" stop-color="#f2c78d"/><stop offset="1" stop-color="#edbf82"/>
</linearGradient>
<linearGradient id="boomg" x1="0" y1="0" x2="0" y2="1">
<stop offset="0" stop-color="#c8cccb"/><stop offset="1" stop-color="#9a9e9d"/>
</linearGradient>
</defs>
<path d="M304.2 446.4 C306 440 314 436.5 324 435.3 C334 434.5 346 435.5 355 438.6 C362 441 368 444.5 372 447.4 L393 437.6 L397.5 436.4 L399 441.5 L389 444.8 C386 446.5 384 449.5 382.3 452.2 C389 455 394.5 460 396.1 467 C397.5 474 394 481 387 483.5 C379 485.5 366 485.5 355 484 C346 482.8 338 481.3 331.7 479.1 C327.5 478 324.5 476 324.3 473.8 C324 472 324.8 471 325.3 470.7 C320 467.5 314 462 310 457 C306.5 453 304 449.5 304.2 446.4Z" fill="url(#wingg)"/>
<path d="M338 473 C352 466 368 458 382.3 452.2 C389 455 394.5 460 396.1 467 C397.5 474 393 480 386 482.5 C378 484.5 366 484.5 355 483 C346 481.8 338 480.8 333 479.5 Z" fill="url(#wingr)" opacity="0.9"/>
<path d="M328 472 C342 466 355 459 366 452.5" stroke="#c3c7c6" stroke-width="2.6" fill="none" opacity="0.45" stroke-linecap="round"/>
<path d="M366 452.5 C376 447 386 441.5 397.5 437.3" stroke="#c6cac9" stroke-width="2.2" fill="none" opacity="0.9"/>
<path d="M336 477 C350 470.5 362 463 372 456.5" stroke="#9a9e9d" stroke-width="1.2" fill="none" opacity="0.35"/>
<path d="M372 453.5 C380 449 389 444.8 399 441.2" stroke="#959998" stroke-width="1.0" fill="none" opacity="0.7"/>
<ellipse cx="332.5" cy="476.6" rx="5.2" ry="2" transform="rotate(-18 332.5 476.6)" fill="#e6e8e7"/>
<ellipse cx="331.2" cy="477.2" rx="2.8" ry="1.2" transform="rotate(-18 331.2 477.2)" fill="#ffffff"/>
<path d="M395.2 438.2 C402 426 410 412 417.7 400.2 L433.2 417.5 L464.3 426.1 L398.7 441.6 Z" fill="url(#tailg)"/>
<path d="M398.7 441.6 L464.3 426.1 L398.2 439.4 Z" fill="#fae3bf"/>
<text x="309.2" y="512.3" font-size="12.7" font-weight="bold" style="font-family:'Liberation Serif',serif" fill="#111">MAV with HN-tail</text>
</svg></body></html>
